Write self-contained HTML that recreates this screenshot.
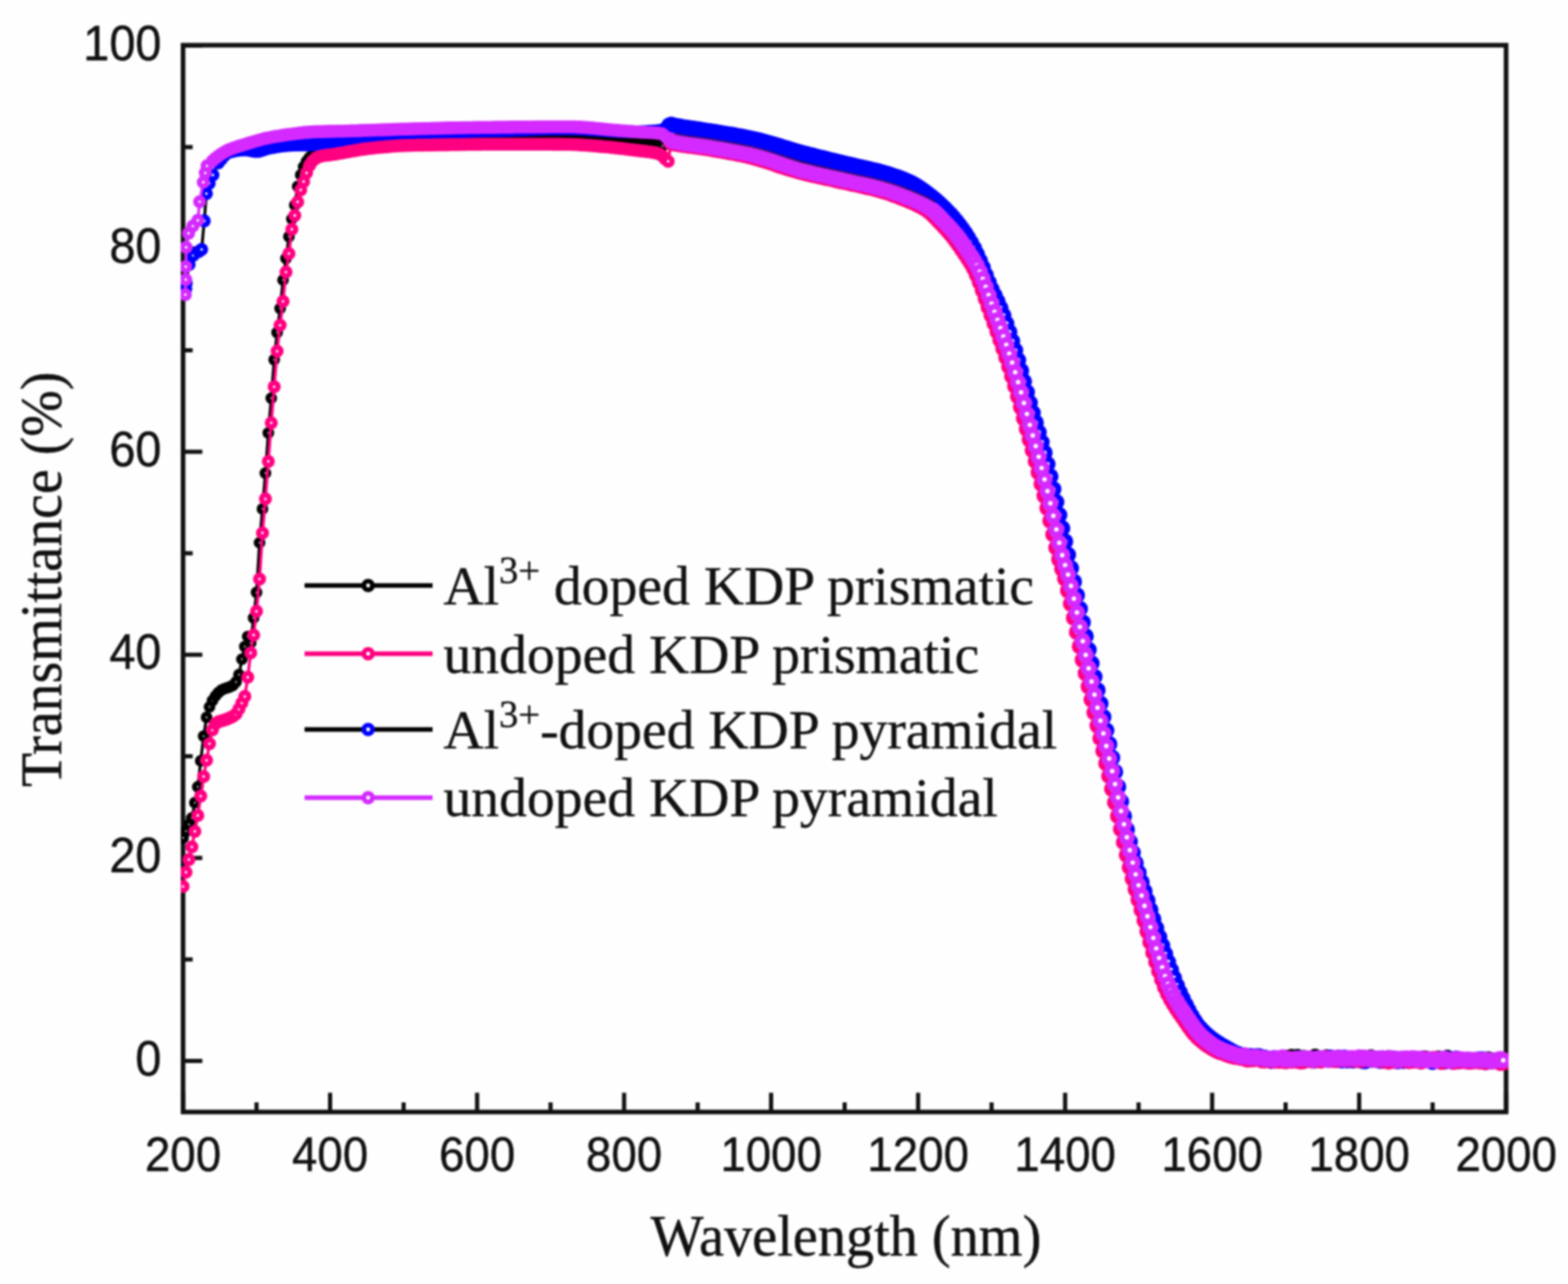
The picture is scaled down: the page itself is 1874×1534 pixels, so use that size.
<!DOCTYPE html>
<html><head><meta charset="utf-8"><title>Transmittance spectra</title>
<style>html,body{margin:0;padding:0;background:#fefefe;}svg{display:block;filter:blur(0.9px);}</style></head>
<body><svg width="1874" height="1534" viewBox="0 0 1874 1534"><rect x="218.8" y="54.0" width="1581.2" height="1274.5" fill="none" stroke="#111" stroke-width="5.5"/><path d="M218.8 1328.5v-23M306.6 1328.5v-11.5M394.5 1328.5v-23M482.4 1328.5v-11.5M570.2 1328.5v-23M658.0 1328.5v-11.5M745.9 1328.5v-23M833.8 1328.5v-11.5M921.6 1328.5v-23M1009.5 1328.5v-11.5M1097.3 1328.5v-23M1185.1 1328.5v-11.5M1273.0 1328.5v-23M1360.8 1328.5v-11.5M1448.7 1328.5v-23M1536.5 1328.5v-11.5M1624.4 1328.5v-23M1712.2 1328.5v-11.5M1800.1 1328.5v-23M218.8 1267.5h23M218.8 1146.2h11.5M218.8 1024.9h23M218.8 903.6h11.5M218.8 782.3h23M218.8 661.0h11.5M218.8 539.7h23M218.8 418.4h11.5M218.8 297.1h23M218.8 175.8h11.5M218.8 54.5h23" stroke="#111" stroke-width="5" fill="none"/><g font-family="Liberation Sans, Arial, sans-serif" font-size="56" fill="#111" stroke="#111" stroke-width="0.5"><text transform="translate(218.8 1398.5) scale(0.975 1.04)" text-anchor="middle">200</text><text transform="translate(394.5 1398.5) scale(0.975 1.04)" text-anchor="middle">400</text><text transform="translate(570.2 1398.5) scale(0.975 1.04)" text-anchor="middle">600</text><text transform="translate(745.9 1398.5) scale(0.975 1.04)" text-anchor="middle">800</text><text transform="translate(921.6 1398.5) scale(0.975 1.04)" text-anchor="middle">1000</text><text transform="translate(1097.3 1398.5) scale(0.975 1.04)" text-anchor="middle">1200</text><text transform="translate(1273.0 1398.5) scale(0.975 1.04)" text-anchor="middle">1400</text><text transform="translate(1448.7 1398.5) scale(0.975 1.04)" text-anchor="middle">1600</text><text transform="translate(1624.4 1398.5) scale(0.975 1.04)" text-anchor="middle">1800</text><text transform="translate(1800.1 1398.5) scale(0.975 1.04)" text-anchor="middle">2000</text><text transform="translate(193 1284.5) scale(1.0 1.06)" text-anchor="end">0</text><text transform="translate(193 1041.9) scale(1.0 1.06)" text-anchor="end">20</text><text transform="translate(193 799.3) scale(1.0 1.06)" text-anchor="end">40</text><text transform="translate(193 556.7) scale(1.0 1.06)" text-anchor="end">60</text><text transform="translate(193 314.1) scale(1.0 1.06)" text-anchor="end">80</text><text transform="translate(193 71.5) scale(1.0 1.06)" text-anchor="end">100</text></g><text transform="translate(1011 1500) scale(0.968 1)" text-anchor="middle" font-family="Liberation Serif, Times New Roman, serif" font-size="69.5" fill="#111" stroke="#111" stroke-width="0.5">Wavelength (nm)</text><text transform="translate(73 692.1) rotate(-90) scale(0.968 1)" text-anchor="middle" font-family="Liberation Serif, Times New Roman, serif" font-size="69" fill="#111" stroke="#111" stroke-width="0.5">Transmittance (%)</text><defs><clipPath id="pc"><rect x="216" y="40" width="1586.7" height="1291"/></clipPath></defs><g clip-path="url(#pc)"><polyline points="218.8,1001.0 222.3,993.0 225.8,984.9 229.3,977.3 232.9,959.0 236.4,940.1 239.9,909.0 243.4,879.5 246.9,857.0 250.4,844.6 253.9,837.0 257.5,831.6 261.0,827.5 264.5,824.6 268.0,822.9 271.5,821.8 275.0,820.6 278.5,818.7 282.1,814.8 285.6,806.0 289.1,787.6 292.6,772.5 296.1,760.4 299.6,767.9 303.1,738.3 306.6,707.7 310.2,648.4 313.7,608.0 317.2,565.3 320.7,517.2 324.2,475.7 327.7,429.8 331.2,397.3 334.8,368.5 338.3,334.6 341.8,308.8 345.3,282.7 348.8,261.6 352.3,245.0 355.8,222.7 359.4,209.0 362.9,199.3 366.4,192.7 369.9,188.1 373.4,184.9 376.9,182.5 380.4,180.8 384.0,179.6 387.5,178.6 391.0,177.8 394.5,177.0 398.0,176.4 401.5,175.7 405.0,175.1 408.6,174.4 412.1,173.8 415.6,173.2 419.1,172.7 422.6,172.1 426.1,171.6 429.6,171.1 433.2,170.7 436.7,170.3 440.2,169.9 443.7,169.5 447.2,169.2 450.7,168.9 454.2,168.7 457.8,168.4 461.3,168.2 464.8,168.0 468.3,167.8 471.8,167.6 475.3,167.4 478.8,167.2 482.4,167.1 485.9,166.9 489.4,166.8 492.9,166.7 496.4,166.6 499.9,166.5 503.4,166.4 506.9,166.4 510.5,166.3 514.0,166.3 517.5,166.2 521.0,166.2 524.5,166.1 528.0,166.1 531.5,166.1 535.1,166.0 538.6,166.0 542.1,166.0 545.6,165.9 549.1,165.9 552.6,165.9 556.1,165.9 559.7,165.8 563.2,165.8 566.7,165.8 570.2,165.8 573.7,165.7 577.2,165.7 580.7,165.7 584.3,165.7 587.8,165.6 591.3,165.6 594.8,165.6 598.3,165.5 601.8,165.5 605.3,165.4 608.9,165.4 612.4,165.3 615.9,165.3 619.4,165.2 622.9,165.2 626.4,165.1 629.9,165.1 633.5,165.0 637.0,164.9 640.5,164.9 644.0,164.8 647.5,164.8 651.0,164.7 654.5,164.7 658.0,164.6 661.6,164.6 665.1,164.6 668.6,164.5 672.1,164.5 675.6,164.5 679.1,164.5 682.6,164.5 686.2,164.5 689.7,164.5 693.2,164.5 696.7,164.5 700.2,164.5 703.7,164.5 707.2,164.7 710.8,164.8 714.3,165.1 717.8,165.4 721.3,165.7 724.8,166.1 728.3,166.5 731.8,167.0 735.4,167.4 738.9,167.9 742.4,168.3 745.9,168.8 749.4,169.3 752.9,169.7 756.4,170.1 760.0,170.5 763.5,170.8 767.0,171.1 770.5,171.4 774.0,171.7 777.5,172.1 781.0,172.4 784.6,172.9 788.1,173.5 791.6,174.6 795.1,158.1 798.6,157.4 802.1,158.3 805.6,159.3 809.2,160.1 812.7,160.8 816.2,161.4 819.7,161.9 823.2,162.5 826.7,163.0 830.2,163.4 833.8,163.9 837.3,164.3 840.8,164.8 844.3,165.3 847.8,165.9 851.3,166.5 854.8,167.1 858.3,167.7 861.9,168.3 865.4,168.9 868.9,169.5 872.4,170.1 875.9,170.7 879.4,171.3 882.9,172.0 886.5,172.7 890.0,173.4 893.5,174.1 897.0,174.8 900.5,175.6 904.0,176.5 907.5,177.4 911.1,178.3 914.6,179.3 918.1,180.4 921.6,181.4 925.1,182.5 928.6,183.7 932.1,184.8 935.7,185.9 939.2,187.0 942.7,188.2 946.2,189.3 949.7,190.3 953.2,191.4 956.7,192.4 960.3,193.3 963.8,194.2 967.3,195.1 970.8,196.0 974.3,196.9 977.8,197.7 981.3,198.5 984.9,199.4 988.4,200.2 991.9,201.0 995.4,201.8 998.9,202.6 1002.4,203.4 1005.9,204.3 1009.5,205.1 1013.0,205.9 1016.5,206.7 1020.0,207.5 1023.5,208.3 1027.0,209.0 1030.5,209.8 1034.0,210.6 1037.6,211.4 1041.1,212.2 1044.6,213.1 1048.1,213.9 1051.6,214.9 1055.1,215.9 1058.6,216.9 1062.2,217.9 1065.7,219.0 1069.2,220.2 1072.7,221.4 1076.2,222.7 1079.7,224.0 1083.2,225.5 1086.8,227.0 1090.3,228.5 1093.8,230.3 1097.3,232.2 1100.8,234.3 1104.3,236.8 1107.8,239.4 1111.4,242.1 1114.9,245.1 1118.4,248.4 1121.9,252.1 1125.4,255.9 1128.9,259.8 1132.4,263.8 1136.0,268.0 1139.5,272.4 1143.0,277.0 1146.5,281.8 1150.0,287.0 1153.5,292.5 1157.0,298.1 1160.6,303.9 1164.1,309.7 1167.6,316.2 1171.1,323.8 1174.6,332.7 1178.1,342.4 1181.6,352.5 1185.1,362.6 1188.7,372.5 1192.2,382.1 1195.7,391.9 1199.2,401.9 1202.7,412.0 1206.2,422.5 1209.7,433.3 1213.3,444.7 1216.8,456.5 1220.3,468.7 1223.8,481.4 1227.3,494.6 1230.8,507.6 1234.3,520.2 1237.9,532.9 1241.4,545.8 1244.9,559.1 1248.4,572.8 1251.9,586.8 1255.4,601.2 1258.9,616.3 1262.5,632.4 1266.0,648.5 1269.5,663.2 1273.0,675.3 1276.5,686.5 1280.0,700.0 1283.5,715.3 1287.1,731.8 1290.6,748.9 1294.1,766.0 1297.6,782.5 1301.1,798.4 1304.6,814.2 1308.1,829.9 1311.7,845.5 1315.2,861.0 1318.7,876.3 1322.2,891.3 1325.7,906.2 1329.2,921.2 1332.7,936.7 1336.3,952.7 1339.8,968.9 1343.3,984.8 1346.8,1000.3 1350.3,1015.8 1353.8,1030.6 1357.3,1044.6 1360.8,1057.6 1364.4,1070.0 1367.9,1082.2 1371.4,1094.7 1374.9,1107.6 1378.4,1120.6 1381.9,1133.1 1385.4,1144.6 1389.0,1155.7 1392.5,1166.2 1396.0,1175.7 1399.5,1183.7 1403.0,1190.5 1406.5,1196.6 1410.0,1202.2 1413.6,1207.4 1417.1,1212.6 1420.6,1217.8 1424.1,1222.9 1427.6,1227.8 1431.1,1232.3 1434.6,1236.3 1438.2,1239.6 1441.7,1242.6 1445.2,1245.3 1448.7,1247.9 1452.2,1250.1 1455.7,1252.1 1459.2,1253.8 1462.8,1255.3 1466.3,1256.6 1469.8,1257.8 1473.3,1259.0 1476.8,1260.0 1480.3,1260.9 1483.8,1262.3 1487.4,1261.7 1490.9,1261.0 1494.4,1262.1 1497.9,1261.3 1501.4,1263.7 1504.9,1266.5 1508.4,1263.1 1512.0,1263.0 1515.5,1265.4 1519.0,1265.3 1522.5,1264.9 1526.0,1262.9 1529.5,1264.7 1533.0,1266.2 1536.5,1262.1 1540.1,1263.9 1543.6,1261.0 1547.1,1262.2 1550.6,1261.1 1554.1,1264.3 1557.6,1262.2 1561.1,1265.3 1564.7,1265.0 1568.2,1264.3 1571.7,1260.7 1575.2,1263.6 1578.7,1264.6 1582.2,1264.9 1585.7,1261.6 1589.3,1263.7 1592.8,1262.6 1596.3,1263.0 1599.8,1266.7 1603.3,1262.9 1606.8,1264.5 1610.3,1266.3 1613.9,1263.4 1617.4,1264.3 1620.9,1264.7 1624.4,1264.6 1627.9,1262.1 1631.4,1264.7 1634.9,1267.2 1638.5,1261.4 1642.0,1266.3 1645.5,1264.8 1649.0,1263.4 1652.5,1268.7 1656.0,1266.3 1659.5,1262.4 1663.1,1265.0 1666.6,1266.1 1670.1,1264.6 1673.6,1266.4 1677.1,1265.0 1680.6,1266.5 1684.1,1268.1 1687.7,1264.0 1691.2,1265.8 1694.7,1264.5 1698.2,1265.7 1701.7,1263.1 1705.2,1264.4 1708.7,1265.2 1712.2,1267.4 1715.8,1268.0 1719.3,1263.1 1722.8,1264.2 1726.3,1267.1 1729.8,1261.9 1733.3,1265.0 1736.8,1265.7 1740.4,1268.5 1743.9,1267.4 1747.4,1265.4 1750.9,1265.3 1754.4,1265.6 1757.9,1269.2 1761.4,1265.3 1765.0,1265.6 1768.5,1266.9 1772.0,1266.0 1775.5,1265.9 1779.0,1264.1 1782.5,1266.3 1786.0,1265.5 1789.6,1268.8 1793.1,1267.8 1796.6,1266.4 1800.1,1267.8" fill="none" stroke="#000000" stroke-width="3.5" stroke-linejoin="round"/><g fill="#fff" stroke="#000000"><circle cx="218.8" cy="1001.0" r="4.0" stroke-width="6.0"/><circle cx="222.3" cy="993.0" r="4.0" stroke-width="6.0"/><circle cx="225.8" cy="984.9" r="4.0" stroke-width="6.0"/><circle cx="229.3" cy="977.3" r="4.0" stroke-width="6.0"/><circle cx="232.9" cy="959.0" r="4.0" stroke-width="6.0"/><circle cx="236.4" cy="940.1" r="4.0" stroke-width="6.0"/><circle cx="239.9" cy="909.0" r="4.0" stroke-width="6.0"/><circle cx="243.4" cy="879.5" r="4.0" stroke-width="6.0"/><circle cx="246.9" cy="857.0" r="4.0" stroke-width="6.0"/><circle cx="250.4" cy="844.6" r="4.0" stroke-width="6.0"/><circle cx="253.9" cy="837.0" r="4.0" stroke-width="6.0"/><circle cx="257.5" cy="831.6" r="4.0" stroke-width="6.0"/><circle cx="261.0" cy="827.5" r="4.0" stroke-width="6.0"/><circle cx="264.5" cy="824.6" r="4.0" stroke-width="6.0"/><circle cx="268.0" cy="822.9" r="4.0" stroke-width="6.0"/><circle cx="271.5" cy="821.8" r="4.0" stroke-width="6.0"/><circle cx="275.0" cy="820.6" r="4.0" stroke-width="6.0"/><circle cx="278.5" cy="818.7" r="4.0" stroke-width="6.0"/><circle cx="282.1" cy="814.8" r="4.0" stroke-width="6.0"/><circle cx="285.6" cy="806.0" r="4.0" stroke-width="6.0"/><circle cx="289.1" cy="787.6" r="4.0" stroke-width="6.0"/><circle cx="292.6" cy="772.5" r="4.0" stroke-width="6.0"/><circle cx="296.1" cy="760.4" r="4.0" stroke-width="6.0"/><circle cx="299.6" cy="767.9" r="4.0" stroke-width="6.0"/><circle cx="303.1" cy="738.3" r="4.0" stroke-width="6.0"/><circle cx="306.6" cy="707.7" r="4.0" stroke-width="6.0"/><circle cx="310.2" cy="648.4" r="4.0" stroke-width="6.0"/><circle cx="313.7" cy="608.0" r="4.0" stroke-width="6.0"/><circle cx="317.2" cy="565.3" r="4.0" stroke-width="6.0"/><circle cx="320.7" cy="517.2" r="4.0" stroke-width="6.0"/><circle cx="324.2" cy="475.7" r="4.0" stroke-width="6.0"/><circle cx="327.7" cy="429.8" r="4.0" stroke-width="6.0"/><circle cx="331.2" cy="397.3" r="4.0" stroke-width="6.0"/><circle cx="334.8" cy="368.5" r="4.0" stroke-width="6.0"/><circle cx="338.3" cy="334.6" r="4.0" stroke-width="6.0"/><circle cx="341.8" cy="308.8" r="4.0" stroke-width="6.0"/><circle cx="345.3" cy="282.7" r="4.0" stroke-width="6.0"/><circle cx="348.8" cy="261.6" r="4.0" stroke-width="6.0"/><circle cx="352.3" cy="245.0" r="4.0" stroke-width="6.0"/><circle cx="355.8" cy="222.7" r="4.0" stroke-width="6.0"/><circle cx="359.4" cy="209.0" r="4.0" stroke-width="6.0"/><circle cx="362.9" cy="199.3" r="4.0" stroke-width="6.0"/><circle cx="366.4" cy="192.7" r="4.0" stroke-width="6.0"/><circle cx="369.9" cy="188.1" r="4.0" stroke-width="6.0"/><circle cx="373.4" cy="184.9" r="4.0" stroke-width="6.0"/><circle cx="376.9" cy="182.5" r="4.0" stroke-width="6.0"/><circle cx="380.4" cy="180.8" r="4.0" stroke-width="6.0"/><circle cx="384.0" cy="179.6" r="4.0" stroke-width="6.0"/><circle cx="387.5" cy="178.6" r="4.0" stroke-width="6.0"/><circle cx="391.0" cy="177.8" r="4.0" stroke-width="6.0"/><circle cx="394.5" cy="177.0" r="4.0" stroke-width="6.0"/><circle cx="398.0" cy="176.4" r="4.0" stroke-width="6.0"/><circle cx="401.5" cy="175.7" r="4.0" stroke-width="6.0"/><circle cx="405.0" cy="175.1" r="4.0" stroke-width="6.0"/><circle cx="408.6" cy="174.4" r="4.0" stroke-width="6.0"/><circle cx="412.1" cy="173.8" r="4.0" stroke-width="6.0"/><circle cx="415.6" cy="173.2" r="4.0" stroke-width="6.0"/><circle cx="419.1" cy="172.7" r="4.0" stroke-width="6.0"/><circle cx="422.6" cy="172.1" r="4.0" stroke-width="6.0"/><circle cx="426.1" cy="171.6" r="4.0" stroke-width="6.0"/><circle cx="429.6" cy="171.1" r="4.0" stroke-width="6.0"/><circle cx="433.2" cy="170.7" r="4.0" stroke-width="6.0"/><circle cx="436.7" cy="170.3" r="4.0" stroke-width="6.0"/><circle cx="440.2" cy="169.9" r="4.0" stroke-width="6.0"/><circle cx="443.7" cy="169.5" r="4.0" stroke-width="6.0"/><circle cx="447.2" cy="169.2" r="4.0" stroke-width="6.0"/><circle cx="450.7" cy="168.9" r="4.0" stroke-width="6.0"/><circle cx="454.2" cy="168.7" r="4.0" stroke-width="6.0"/><circle cx="457.8" cy="168.4" r="4.0" stroke-width="6.0"/><circle cx="461.3" cy="168.2" r="4.0" stroke-width="6.0"/><circle cx="464.8" cy="168.0" r="4.0" stroke-width="6.0"/><circle cx="468.3" cy="167.8" r="4.0" stroke-width="6.0"/><circle cx="471.8" cy="167.6" r="4.0" stroke-width="6.0"/><circle cx="475.3" cy="167.4" r="4.0" stroke-width="6.0"/><circle cx="478.8" cy="167.2" r="4.0" stroke-width="6.0"/><circle cx="482.4" cy="167.1" r="4.0" stroke-width="6.0"/><circle cx="485.9" cy="166.9" r="4.0" stroke-width="6.0"/><circle cx="489.4" cy="166.8" r="4.0" stroke-width="6.0"/><circle cx="492.9" cy="166.7" r="4.0" stroke-width="6.0"/><circle cx="496.4" cy="166.6" r="4.0" stroke-width="6.0"/><circle cx="499.9" cy="166.5" r="4.0" stroke-width="6.0"/><circle cx="503.4" cy="166.4" r="4.0" stroke-width="6.0"/><circle cx="506.9" cy="166.4" r="4.0" stroke-width="6.0"/><circle cx="510.5" cy="166.3" r="4.0" stroke-width="6.0"/><circle cx="514.0" cy="166.3" r="4.0" stroke-width="6.0"/><circle cx="517.5" cy="166.2" r="4.0" stroke-width="6.0"/><circle cx="521.0" cy="166.2" r="4.0" stroke-width="6.0"/><circle cx="524.5" cy="166.1" r="4.0" stroke-width="6.0"/><circle cx="528.0" cy="166.1" r="4.0" stroke-width="6.0"/><circle cx="531.5" cy="166.1" r="4.0" stroke-width="6.0"/><circle cx="535.1" cy="166.0" r="4.0" stroke-width="6.0"/><circle cx="538.6" cy="166.0" r="4.0" stroke-width="6.0"/><circle cx="542.1" cy="166.0" r="4.0" stroke-width="6.0"/><circle cx="545.6" cy="165.9" r="4.0" stroke-width="6.0"/><circle cx="549.1" cy="165.9" r="4.0" stroke-width="6.0"/><circle cx="552.6" cy="165.9" r="4.0" stroke-width="6.0"/><circle cx="556.1" cy="165.9" r="4.0" stroke-width="6.0"/><circle cx="559.7" cy="165.8" r="4.0" stroke-width="6.0"/><circle cx="563.2" cy="165.8" r="4.0" stroke-width="6.0"/><circle cx="566.7" cy="165.8" r="4.0" stroke-width="6.0"/><circle cx="570.2" cy="165.8" r="4.0" stroke-width="6.0"/><circle cx="573.7" cy="165.7" r="4.0" stroke-width="6.0"/><circle cx="577.2" cy="165.7" r="4.0" stroke-width="6.0"/><circle cx="580.7" cy="165.7" r="4.0" stroke-width="6.0"/><circle cx="584.3" cy="165.7" r="4.0" stroke-width="6.0"/><circle cx="587.8" cy="165.6" r="4.0" stroke-width="6.0"/><circle cx="591.3" cy="165.6" r="4.0" stroke-width="6.0"/><circle cx="594.8" cy="165.6" r="4.0" stroke-width="6.0"/><circle cx="598.3" cy="165.5" r="4.0" stroke-width="6.0"/><circle cx="601.8" cy="165.5" r="4.0" stroke-width="6.0"/><circle cx="605.3" cy="165.4" r="4.0" stroke-width="6.0"/><circle cx="608.9" cy="165.4" r="4.0" stroke-width="6.0"/><circle cx="612.4" cy="165.3" r="4.0" stroke-width="6.0"/><circle cx="615.9" cy="165.3" r="4.0" stroke-width="6.0"/><circle cx="619.4" cy="165.2" r="4.0" stroke-width="6.0"/><circle cx="622.9" cy="165.2" r="4.0" stroke-width="6.0"/><circle cx="626.4" cy="165.1" r="4.0" stroke-width="6.0"/><circle cx="629.9" cy="165.1" r="4.0" stroke-width="6.0"/><circle cx="633.5" cy="165.0" r="4.0" stroke-width="6.0"/><circle cx="637.0" cy="164.9" r="4.0" stroke-width="6.0"/><circle cx="640.5" cy="164.9" r="4.0" stroke-width="6.0"/><circle cx="644.0" cy="164.8" r="4.0" stroke-width="6.0"/><circle cx="647.5" cy="164.8" r="4.0" stroke-width="6.0"/><circle cx="651.0" cy="164.7" r="4.0" stroke-width="6.0"/><circle cx="654.5" cy="164.7" r="4.0" stroke-width="6.0"/><circle cx="658.0" cy="164.6" r="4.0" stroke-width="6.0"/><circle cx="661.6" cy="164.6" r="4.0" stroke-width="6.0"/><circle cx="665.1" cy="164.6" r="4.0" stroke-width="6.0"/><circle cx="668.6" cy="164.5" r="4.0" stroke-width="6.0"/><circle cx="672.1" cy="164.5" r="4.0" stroke-width="6.0"/><circle cx="675.6" cy="164.5" r="4.0" stroke-width="6.0"/><circle cx="679.1" cy="164.5" r="4.0" stroke-width="6.0"/><circle cx="682.6" cy="164.5" r="4.0" stroke-width="6.0"/><circle cx="686.2" cy="164.5" r="4.0" stroke-width="6.0"/><circle cx="689.7" cy="164.5" r="4.0" stroke-width="6.0"/><circle cx="693.2" cy="164.5" r="4.0" stroke-width="6.0"/><circle cx="696.7" cy="164.5" r="4.0" stroke-width="6.0"/><circle cx="700.2" cy="164.5" r="4.0" stroke-width="6.0"/><circle cx="703.7" cy="164.5" r="4.0" stroke-width="6.0"/><circle cx="707.2" cy="164.7" r="4.0" stroke-width="6.0"/><circle cx="710.8" cy="164.8" r="4.0" stroke-width="6.0"/><circle cx="714.3" cy="165.1" r="4.0" stroke-width="6.0"/><circle cx="717.8" cy="165.4" r="4.0" stroke-width="6.0"/><circle cx="721.3" cy="165.7" r="4.0" stroke-width="6.0"/><circle cx="724.8" cy="166.1" r="4.0" stroke-width="6.0"/><circle cx="728.3" cy="166.5" r="4.0" stroke-width="6.0"/><circle cx="731.8" cy="167.0" r="4.0" stroke-width="6.0"/><circle cx="735.4" cy="167.4" r="4.0" stroke-width="6.0"/><circle cx="738.9" cy="167.9" r="4.0" stroke-width="6.0"/><circle cx="742.4" cy="168.3" r="4.0" stroke-width="6.0"/><circle cx="745.9" cy="168.8" r="4.0" stroke-width="6.0"/><circle cx="749.4" cy="169.3" r="4.0" stroke-width="6.0"/><circle cx="752.9" cy="169.7" r="4.0" stroke-width="6.0"/><circle cx="756.4" cy="170.1" r="4.0" stroke-width="6.0"/><circle cx="760.0" cy="170.5" r="4.0" stroke-width="6.0"/><circle cx="763.5" cy="170.8" r="4.0" stroke-width="6.0"/><circle cx="767.0" cy="171.1" r="4.0" stroke-width="6.0"/><circle cx="770.5" cy="171.4" r="4.0" stroke-width="6.0"/><circle cx="774.0" cy="171.7" r="4.0" stroke-width="6.0"/><circle cx="777.5" cy="172.1" r="4.0" stroke-width="6.0"/><circle cx="781.0" cy="172.4" r="4.0" stroke-width="6.0"/><circle cx="784.6" cy="172.9" r="4.0" stroke-width="6.0"/><circle cx="788.1" cy="173.5" r="4.0" stroke-width="6.0"/><circle cx="791.6" cy="174.6" r="4.0" stroke-width="6.0"/><circle cx="795.1" cy="158.1" r="4.0" stroke-width="6.0"/><circle cx="798.6" cy="157.4" r="4.0" stroke-width="6.0"/><circle cx="802.1" cy="158.3" r="5.0" stroke-width="6.0"/><circle cx="805.6" cy="159.3" r="5.0" stroke-width="6.0"/><circle cx="809.2" cy="160.1" r="5.0" stroke-width="6.0"/><circle cx="812.7" cy="160.8" r="5.0" stroke-width="6.0"/><circle cx="816.2" cy="161.4" r="5.0" stroke-width="6.0"/><circle cx="819.7" cy="161.9" r="5.0" stroke-width="6.0"/><circle cx="823.2" cy="162.5" r="5.0" stroke-width="6.0"/><circle cx="826.7" cy="163.0" r="5.0" stroke-width="6.0"/><circle cx="830.2" cy="163.4" r="5.0" stroke-width="6.0"/><circle cx="833.8" cy="163.9" r="5.0" stroke-width="6.0"/><circle cx="837.3" cy="164.3" r="5.0" stroke-width="6.0"/><circle cx="840.8" cy="164.8" r="5.0" stroke-width="6.0"/><circle cx="844.3" cy="165.3" r="5.0" stroke-width="6.0"/><circle cx="847.8" cy="165.9" r="5.0" stroke-width="6.0"/><circle cx="851.3" cy="166.5" r="5.0" stroke-width="6.0"/><circle cx="854.8" cy="167.1" r="5.0" stroke-width="6.0"/><circle cx="858.3" cy="167.7" r="5.0" stroke-width="6.0"/><circle cx="861.9" cy="168.3" r="5.0" stroke-width="6.0"/><circle cx="865.4" cy="168.9" r="5.0" stroke-width="6.0"/><circle cx="868.9" cy="169.5" r="5.0" stroke-width="6.0"/><circle cx="872.4" cy="170.1" r="5.0" stroke-width="6.0"/><circle cx="875.9" cy="170.7" r="5.0" stroke-width="6.0"/><circle cx="879.4" cy="171.3" r="5.0" stroke-width="6.0"/><circle cx="882.9" cy="172.0" r="5.0" stroke-width="6.0"/><circle cx="886.5" cy="172.7" r="5.0" stroke-width="6.0"/><circle cx="890.0" cy="173.4" r="5.0" stroke-width="6.0"/><circle cx="893.5" cy="174.1" r="5.0" stroke-width="6.0"/><circle cx="897.0" cy="174.8" r="5.0" stroke-width="6.0"/><circle cx="900.5" cy="175.6" r="5.0" stroke-width="6.0"/><circle cx="904.0" cy="176.5" r="5.0" stroke-width="6.0"/><circle cx="907.5" cy="177.4" r="5.0" stroke-width="6.0"/><circle cx="911.1" cy="178.3" r="5.0" stroke-width="6.0"/><circle cx="914.6" cy="179.3" r="5.0" stroke-width="6.0"/><circle cx="918.1" cy="180.4" r="5.0" stroke-width="6.0"/><circle cx="921.6" cy="181.4" r="5.0" stroke-width="6.0"/><circle cx="925.1" cy="182.5" r="5.0" stroke-width="6.0"/><circle cx="928.6" cy="183.7" r="5.0" stroke-width="6.0"/><circle cx="932.1" cy="184.8" r="5.0" stroke-width="6.0"/><circle cx="935.7" cy="185.9" r="5.0" stroke-width="6.0"/><circle cx="939.2" cy="187.0" r="5.0" stroke-width="6.0"/><circle cx="942.7" cy="188.2" r="5.0" stroke-width="6.0"/><circle cx="946.2" cy="189.3" r="5.0" stroke-width="6.0"/><circle cx="949.7" cy="190.3" r="5.0" stroke-width="6.0"/><circle cx="953.2" cy="191.4" r="5.0" stroke-width="6.0"/><circle cx="956.7" cy="192.4" r="5.0" stroke-width="6.0"/><circle cx="960.3" cy="193.3" r="5.0" stroke-width="6.0"/><circle cx="963.8" cy="194.2" r="5.0" stroke-width="6.0"/><circle cx="967.3" cy="195.1" r="5.0" stroke-width="6.0"/><circle cx="970.8" cy="196.0" r="5.0" stroke-width="6.0"/><circle cx="974.3" cy="196.9" r="5.0" stroke-width="6.0"/><circle cx="977.8" cy="197.7" r="5.0" stroke-width="6.0"/><circle cx="981.3" cy="198.5" r="5.0" stroke-width="6.0"/><circle cx="984.9" cy="199.4" r="5.0" stroke-width="6.0"/><circle cx="988.4" cy="200.2" r="5.0" stroke-width="6.0"/><circle cx="991.9" cy="201.0" r="5.0" stroke-width="6.0"/><circle cx="995.4" cy="201.8" r="5.0" stroke-width="6.0"/><circle cx="998.9" cy="202.6" r="5.0" stroke-width="6.0"/><circle cx="1002.4" cy="203.4" r="5.0" stroke-width="6.0"/><circle cx="1005.9" cy="204.3" r="5.0" stroke-width="6.0"/><circle cx="1009.5" cy="205.1" r="5.0" stroke-width="6.0"/><circle cx="1013.0" cy="205.9" r="5.0" stroke-width="6.0"/><circle cx="1016.5" cy="206.7" r="5.0" stroke-width="6.0"/><circle cx="1020.0" cy="207.5" r="5.0" stroke-width="6.0"/><circle cx="1023.5" cy="208.3" r="5.0" stroke-width="6.0"/><circle cx="1027.0" cy="209.0" r="5.0" stroke-width="6.0"/><circle cx="1030.5" cy="209.8" r="5.0" stroke-width="6.0"/><circle cx="1034.0" cy="210.6" r="5.0" stroke-width="6.0"/><circle cx="1037.6" cy="211.4" r="5.0" stroke-width="6.0"/><circle cx="1041.1" cy="212.2" r="5.0" stroke-width="6.0"/><circle cx="1044.6" cy="213.1" r="5.0" stroke-width="6.0"/><circle cx="1048.1" cy="213.9" r="5.0" stroke-width="6.0"/><circle cx="1051.6" cy="214.9" r="5.0" stroke-width="6.0"/><circle cx="1055.1" cy="215.9" r="5.0" stroke-width="6.0"/><circle cx="1058.6" cy="216.9" r="5.0" stroke-width="6.0"/><circle cx="1062.2" cy="217.9" r="5.0" stroke-width="6.0"/><circle cx="1065.7" cy="219.0" r="5.0" stroke-width="6.0"/><circle cx="1069.2" cy="220.2" r="5.0" stroke-width="6.0"/><circle cx="1072.7" cy="221.4" r="5.0" stroke-width="6.0"/><circle cx="1076.2" cy="222.7" r="5.0" stroke-width="6.0"/><circle cx="1079.7" cy="224.0" r="5.0" stroke-width="6.0"/><circle cx="1083.2" cy="225.5" r="5.0" stroke-width="6.0"/><circle cx="1086.8" cy="227.0" r="5.0" stroke-width="6.0"/><circle cx="1090.3" cy="228.5" r="5.0" stroke-width="6.0"/><circle cx="1093.8" cy="230.3" r="5.0" stroke-width="6.0"/><circle cx="1097.3" cy="232.2" r="5.0" stroke-width="6.0"/><circle cx="1100.8" cy="234.3" r="5.0" stroke-width="6.0"/><circle cx="1104.3" cy="236.8" r="5.0" stroke-width="6.0"/><circle cx="1107.8" cy="239.4" r="5.0" stroke-width="6.0"/><circle cx="1111.4" cy="242.1" r="5.0" stroke-width="6.0"/><circle cx="1114.9" cy="245.1" r="5.0" stroke-width="6.0"/><circle cx="1118.4" cy="248.4" r="5.0" stroke-width="6.0"/><circle cx="1121.9" cy="252.1" r="5.0" stroke-width="6.0"/><circle cx="1125.4" cy="255.9" r="5.0" stroke-width="6.0"/><circle cx="1128.9" cy="259.8" r="5.0" stroke-width="6.0"/><circle cx="1132.4" cy="263.8" r="5.0" stroke-width="6.0"/><circle cx="1136.0" cy="268.0" r="5.0" stroke-width="6.0"/><circle cx="1139.5" cy="272.4" r="5.0" stroke-width="6.0"/><circle cx="1143.0" cy="277.0" r="5.0" stroke-width="6.0"/><circle cx="1146.5" cy="281.8" r="5.0" stroke-width="6.0"/><circle cx="1150.0" cy="287.0" r="5.0" stroke-width="6.0"/><circle cx="1153.5" cy="292.5" r="5.0" stroke-width="6.0"/><circle cx="1157.0" cy="298.1" r="5.0" stroke-width="6.0"/><circle cx="1160.6" cy="303.9" r="5.0" stroke-width="6.0"/><circle cx="1164.1" cy="309.7" r="5.0" stroke-width="6.0"/><circle cx="1167.6" cy="316.2" r="5.0" stroke-width="6.0"/><circle cx="1171.1" cy="323.8" r="5.0" stroke-width="6.0"/><circle cx="1174.6" cy="332.7" r="5.0" stroke-width="6.0"/><circle cx="1178.1" cy="342.4" r="5.0" stroke-width="6.0"/><circle cx="1181.6" cy="352.5" r="5.0" stroke-width="6.0"/><circle cx="1185.1" cy="362.6" r="5.0" stroke-width="6.0"/><circle cx="1188.7" cy="372.5" r="5.0" stroke-width="6.0"/><circle cx="1192.2" cy="382.1" r="5.0" stroke-width="6.0"/><circle cx="1195.7" cy="391.9" r="5.0" stroke-width="6.0"/><circle cx="1199.2" cy="401.9" r="5.0" stroke-width="6.0"/><circle cx="1202.7" cy="412.0" r="5.0" stroke-width="6.0"/><circle cx="1206.2" cy="422.5" r="5.0" stroke-width="6.0"/><circle cx="1209.7" cy="433.3" r="5.0" stroke-width="6.0"/><circle cx="1213.3" cy="444.7" r="5.0" stroke-width="6.0"/><circle cx="1216.8" cy="456.5" r="5.0" stroke-width="6.0"/><circle cx="1220.3" cy="468.7" r="5.0" stroke-width="6.0"/><circle cx="1223.8" cy="481.4" r="5.0" stroke-width="6.0"/><circle cx="1227.3" cy="494.6" r="5.0" stroke-width="6.0"/><circle cx="1230.8" cy="507.6" r="5.0" stroke-width="6.0"/><circle cx="1234.3" cy="520.2" r="5.0" stroke-width="6.0"/><circle cx="1237.9" cy="532.9" r="5.0" stroke-width="6.0"/><circle cx="1241.4" cy="545.8" r="5.0" stroke-width="6.0"/><circle cx="1244.9" cy="559.1" r="5.0" stroke-width="6.0"/><circle cx="1248.4" cy="572.8" r="5.0" stroke-width="6.0"/><circle cx="1251.9" cy="586.8" r="5.0" stroke-width="6.0"/><circle cx="1255.4" cy="601.2" r="5.0" stroke-width="6.0"/><circle cx="1258.9" cy="616.3" r="5.0" stroke-width="6.0"/><circle cx="1262.5" cy="632.4" r="5.0" stroke-width="6.0"/><circle cx="1266.0" cy="648.5" r="5.0" stroke-width="6.0"/><circle cx="1269.5" cy="663.2" r="5.0" stroke-width="6.0"/><circle cx="1273.0" cy="675.3" r="5.0" stroke-width="6.0"/><circle cx="1276.5" cy="686.5" r="5.0" stroke-width="6.0"/><circle cx="1280.0" cy="700.0" r="5.0" stroke-width="6.0"/><circle cx="1283.5" cy="715.3" r="5.0" stroke-width="6.0"/><circle cx="1287.1" cy="731.8" r="5.0" stroke-width="6.0"/><circle cx="1290.6" cy="748.9" r="5.0" stroke-width="6.0"/><circle cx="1294.1" cy="766.0" r="5.0" stroke-width="6.0"/><circle cx="1297.6" cy="782.5" r="5.0" stroke-width="6.0"/><circle cx="1301.1" cy="798.4" r="5.0" stroke-width="6.0"/><circle cx="1304.6" cy="814.2" r="5.0" stroke-width="6.0"/><circle cx="1308.1" cy="829.9" r="5.0" stroke-width="6.0"/><circle cx="1311.7" cy="845.5" r="5.0" stroke-width="6.0"/><circle cx="1315.2" cy="861.0" r="5.0" stroke-width="6.0"/><circle cx="1318.7" cy="876.3" r="5.0" stroke-width="6.0"/><circle cx="1322.2" cy="891.3" r="5.0" stroke-width="6.0"/><circle cx="1325.7" cy="906.2" r="5.0" stroke-width="6.0"/><circle cx="1329.2" cy="921.2" r="5.0" stroke-width="6.0"/><circle cx="1332.7" cy="936.7" r="5.0" stroke-width="6.0"/><circle cx="1336.3" cy="952.7" r="5.0" stroke-width="6.0"/><circle cx="1339.8" cy="968.9" r="5.0" stroke-width="6.0"/><circle cx="1343.3" cy="984.8" r="5.0" stroke-width="6.0"/><circle cx="1346.8" cy="1000.3" r="5.0" stroke-width="6.0"/><circle cx="1350.3" cy="1015.8" r="5.0" stroke-width="6.0"/><circle cx="1353.8" cy="1030.6" r="5.0" stroke-width="6.0"/><circle cx="1357.3" cy="1044.6" r="5.0" stroke-width="6.0"/><circle cx="1360.8" cy="1057.6" r="5.0" stroke-width="6.0"/><circle cx="1364.4" cy="1070.0" r="5.0" stroke-width="6.0"/><circle cx="1367.9" cy="1082.2" r="5.0" stroke-width="6.0"/><circle cx="1371.4" cy="1094.7" r="5.0" stroke-width="6.0"/><circle cx="1374.9" cy="1107.6" r="5.0" stroke-width="6.0"/><circle cx="1378.4" cy="1120.6" r="5.0" stroke-width="6.0"/><circle cx="1381.9" cy="1133.1" r="5.0" stroke-width="6.0"/><circle cx="1385.4" cy="1144.6" r="5.0" stroke-width="6.0"/><circle cx="1389.0" cy="1155.7" r="5.0" stroke-width="6.0"/><circle cx="1392.5" cy="1166.2" r="5.0" stroke-width="6.0"/><circle cx="1396.0" cy="1175.7" r="5.0" stroke-width="6.0"/><circle cx="1399.5" cy="1183.7" r="5.0" stroke-width="6.0"/><circle cx="1403.0" cy="1190.5" r="5.0" stroke-width="6.0"/><circle cx="1406.5" cy="1196.6" r="5.0" stroke-width="6.0"/><circle cx="1410.0" cy="1202.2" r="5.0" stroke-width="6.0"/><circle cx="1413.6" cy="1207.4" r="5.0" stroke-width="6.0"/><circle cx="1417.1" cy="1212.6" r="5.0" stroke-width="6.0"/><circle cx="1420.6" cy="1217.8" r="5.0" stroke-width="6.0"/><circle cx="1424.1" cy="1222.9" r="5.0" stroke-width="6.0"/><circle cx="1427.6" cy="1227.8" r="5.0" stroke-width="6.0"/><circle cx="1431.1" cy="1232.3" r="5.0" stroke-width="6.0"/><circle cx="1434.6" cy="1236.3" r="5.0" stroke-width="6.0"/><circle cx="1438.2" cy="1239.6" r="5.0" stroke-width="6.0"/><circle cx="1441.7" cy="1242.6" r="5.0" stroke-width="6.0"/><circle cx="1445.2" cy="1245.3" r="5.0" stroke-width="6.0"/><circle cx="1448.7" cy="1247.9" r="5.0" stroke-width="6.0"/><circle cx="1452.2" cy="1250.1" r="5.0" stroke-width="6.0"/><circle cx="1455.7" cy="1252.1" r="5.0" stroke-width="6.0"/><circle cx="1459.2" cy="1253.8" r="5.0" stroke-width="6.0"/><circle cx="1462.8" cy="1255.3" r="5.0" stroke-width="6.0"/><circle cx="1466.3" cy="1256.6" r="5.0" stroke-width="6.0"/><circle cx="1469.8" cy="1257.8" r="5.0" stroke-width="6.0"/><circle cx="1473.3" cy="1259.0" r="5.0" stroke-width="6.0"/><circle cx="1476.8" cy="1260.0" r="5.0" stroke-width="6.0"/><circle cx="1480.3" cy="1260.9" r="5.0" stroke-width="6.0"/><circle cx="1483.8" cy="1262.3" r="5.0" stroke-width="6.0"/><circle cx="1487.4" cy="1261.7" r="5.0" stroke-width="6.0"/><circle cx="1490.9" cy="1261.0" r="5.0" stroke-width="6.0"/><circle cx="1494.4" cy="1262.1" r="5.0" stroke-width="6.0"/><circle cx="1497.9" cy="1261.3" r="5.0" stroke-width="6.0"/><circle cx="1501.4" cy="1263.7" r="5.0" stroke-width="6.0"/><circle cx="1504.9" cy="1266.5" r="5.0" stroke-width="6.0"/><circle cx="1508.4" cy="1263.1" r="5.0" stroke-width="6.0"/><circle cx="1512.0" cy="1263.0" r="5.0" stroke-width="6.0"/><circle cx="1515.5" cy="1265.4" r="5.0" stroke-width="6.0"/><circle cx="1519.0" cy="1265.3" r="5.0" stroke-width="6.0"/><circle cx="1522.5" cy="1264.9" r="5.0" stroke-width="6.0"/><circle cx="1526.0" cy="1262.9" r="5.0" stroke-width="6.0"/><circle cx="1529.5" cy="1264.7" r="5.0" stroke-width="6.0"/><circle cx="1533.0" cy="1266.2" r="5.0" stroke-width="6.0"/><circle cx="1536.5" cy="1262.1" r="5.0" stroke-width="6.0"/><circle cx="1540.1" cy="1263.9" r="5.0" stroke-width="6.0"/><circle cx="1543.6" cy="1261.0" r="5.0" stroke-width="6.0"/><circle cx="1547.1" cy="1262.2" r="5.0" stroke-width="6.0"/><circle cx="1550.6" cy="1261.1" r="5.0" stroke-width="6.0"/><circle cx="1554.1" cy="1264.3" r="5.0" stroke-width="6.0"/><circle cx="1557.6" cy="1262.2" r="5.0" stroke-width="6.0"/><circle cx="1561.1" cy="1265.3" r="5.0" stroke-width="6.0"/><circle cx="1564.7" cy="1265.0" r="5.0" stroke-width="6.0"/><circle cx="1568.2" cy="1264.3" r="5.0" stroke-width="6.0"/><circle cx="1571.7" cy="1260.7" r="5.0" stroke-width="6.0"/><circle cx="1575.2" cy="1263.6" r="5.0" stroke-width="6.0"/><circle cx="1578.7" cy="1264.6" r="5.0" stroke-width="6.0"/><circle cx="1582.2" cy="1264.9" r="5.0" stroke-width="6.0"/><circle cx="1585.7" cy="1261.6" r="5.0" stroke-width="6.0"/><circle cx="1589.3" cy="1263.7" r="5.0" stroke-width="6.0"/><circle cx="1592.8" cy="1262.6" r="5.0" stroke-width="6.0"/><circle cx="1596.3" cy="1263.0" r="5.0" stroke-width="6.0"/><circle cx="1599.8" cy="1266.7" r="5.0" stroke-width="6.0"/><circle cx="1603.3" cy="1262.9" r="5.0" stroke-width="6.0"/><circle cx="1606.8" cy="1264.5" r="5.0" stroke-width="6.0"/><circle cx="1610.3" cy="1266.3" r="5.0" stroke-width="6.0"/><circle cx="1613.9" cy="1263.4" r="5.0" stroke-width="6.0"/><circle cx="1617.4" cy="1264.3" r="5.0" stroke-width="6.0"/><circle cx="1620.9" cy="1264.7" r="5.0" stroke-width="6.0"/><circle cx="1624.4" cy="1264.6" r="5.0" stroke-width="6.0"/><circle cx="1627.9" cy="1262.1" r="5.0" stroke-width="6.0"/><circle cx="1631.4" cy="1264.7" r="5.0" stroke-width="6.0"/><circle cx="1634.9" cy="1267.2" r="5.0" stroke-width="6.0"/><circle cx="1638.5" cy="1261.4" r="5.0" stroke-width="6.0"/><circle cx="1642.0" cy="1266.3" r="5.0" stroke-width="6.0"/><circle cx="1645.5" cy="1264.8" r="5.0" stroke-width="6.0"/><circle cx="1649.0" cy="1263.4" r="5.0" stroke-width="6.0"/><circle cx="1652.5" cy="1268.7" r="5.0" stroke-width="6.0"/><circle cx="1656.0" cy="1266.3" r="5.0" stroke-width="6.0"/><circle cx="1659.5" cy="1262.4" r="5.0" stroke-width="6.0"/><circle cx="1663.1" cy="1265.0" r="5.0" stroke-width="6.0"/><circle cx="1666.6" cy="1266.1" r="5.0" stroke-width="6.0"/><circle cx="1670.1" cy="1264.6" r="5.0" stroke-width="6.0"/><circle cx="1673.6" cy="1266.4" r="5.0" stroke-width="6.0"/><circle cx="1677.1" cy="1265.0" r="5.0" stroke-width="6.0"/><circle cx="1680.6" cy="1266.5" r="5.0" stroke-width="6.0"/><circle cx="1684.1" cy="1268.1" r="5.0" stroke-width="6.0"/><circle cx="1687.7" cy="1264.0" r="5.0" stroke-width="6.0"/><circle cx="1691.2" cy="1265.8" r="5.0" stroke-width="6.0"/><circle cx="1694.7" cy="1264.5" r="5.0" stroke-width="6.0"/><circle cx="1698.2" cy="1265.7" r="5.0" stroke-width="6.0"/><circle cx="1701.7" cy="1263.1" r="5.0" stroke-width="6.0"/><circle cx="1705.2" cy="1264.4" r="5.0" stroke-width="6.0"/><circle cx="1708.7" cy="1265.2" r="5.0" stroke-width="6.0"/><circle cx="1712.2" cy="1267.4" r="5.0" stroke-width="6.0"/><circle cx="1715.8" cy="1268.0" r="5.0" stroke-width="6.0"/><circle cx="1719.3" cy="1263.1" r="5.0" stroke-width="6.0"/><circle cx="1722.8" cy="1264.2" r="5.0" stroke-width="6.0"/><circle cx="1726.3" cy="1267.1" r="5.0" stroke-width="6.0"/><circle cx="1729.8" cy="1261.9" r="5.0" stroke-width="6.0"/><circle cx="1733.3" cy="1265.0" r="5.0" stroke-width="6.0"/><circle cx="1736.8" cy="1265.7" r="5.0" stroke-width="6.0"/><circle cx="1740.4" cy="1268.5" r="5.0" stroke-width="6.0"/><circle cx="1743.9" cy="1267.4" r="5.0" stroke-width="6.0"/><circle cx="1747.4" cy="1265.4" r="5.0" stroke-width="6.0"/><circle cx="1750.9" cy="1265.3" r="5.0" stroke-width="6.0"/><circle cx="1754.4" cy="1265.6" r="5.0" stroke-width="6.0"/><circle cx="1757.9" cy="1269.2" r="5.0" stroke-width="6.0"/><circle cx="1761.4" cy="1265.3" r="5.0" stroke-width="6.0"/><circle cx="1765.0" cy="1265.6" r="5.0" stroke-width="6.0"/><circle cx="1768.5" cy="1266.9" r="5.0" stroke-width="6.0"/><circle cx="1772.0" cy="1266.0" r="5.0" stroke-width="6.0"/><circle cx="1775.5" cy="1265.9" r="5.0" stroke-width="6.0"/><circle cx="1779.0" cy="1264.1" r="5.0" stroke-width="6.0"/><circle cx="1782.5" cy="1266.3" r="5.0" stroke-width="6.0"/><circle cx="1786.0" cy="1265.5" r="5.0" stroke-width="6.0"/><circle cx="1789.6" cy="1268.8" r="5.0" stroke-width="6.0"/><circle cx="1793.1" cy="1267.8" r="5.0" stroke-width="6.0"/><circle cx="1796.6" cy="1266.4" r="5.0" stroke-width="6.0"/><circle cx="1800.1" cy="1267.8" r="5.0" stroke-width="6.0"/></g><polyline points="222.0,345.0 222.5,338.5 226.0,316.0 231.0,305.0 237.5,300.5 241.0,298.0 244.1,263.9 246.7,231.3 250.0,219.0 254.5,209.1 261.0,194.6 264.5,190.2 268.0,186.1 271.5,182.9 275.0,181.5 278.5,180.7 282.1,180.0 285.6,179.4 289.1,179.1 292.6,179.0 296.1,179.3 299.6,180.0 303.1,180.6 306.6,181.0 310.2,180.6 313.7,179.5 317.2,178.2 320.7,177.2 324.2,176.5 327.7,175.9 331.2,175.3 334.8,174.8 338.3,174.3 341.8,173.9 345.3,173.6 348.8,173.4 352.3,173.3 355.8,173.2 359.4,173.1 362.9,173.1 366.4,173.1 369.9,173.0 373.4,172.9 376.9,172.7 380.4,172.5 384.0,172.3 387.5,172.1 391.0,171.8 394.5,171.5 398.0,171.3 401.5,171.0 405.0,170.7 408.6,170.4 412.1,170.2 415.6,170.0 419.1,169.8 422.6,169.6 426.1,169.4 429.6,169.2 433.2,169.0 436.7,168.8 440.2,168.6 443.7,168.4 447.2,168.2 450.7,167.9 454.2,167.7 457.8,167.4 461.3,167.0 464.8,166.7 468.3,166.3 471.8,165.9 475.3,165.5 478.8,165.1 482.4,164.7 485.9,164.3 489.4,163.9 492.9,163.4 496.4,162.9 499.9,162.4 503.4,162.0 506.9,161.5 510.5,161.0 514.0,160.6 517.5,160.2 521.0,159.9 524.5,159.6 528.0,159.3 531.5,158.9 535.1,158.6 538.6,158.3 542.1,158.1 545.6,157.8 549.1,157.6 552.6,157.3 556.1,157.2 559.7,157.0 563.2,156.9 566.7,156.8 570.2,156.7 573.7,156.6 577.2,156.5 580.7,156.4 584.3,156.3 587.8,156.3 591.3,156.2 594.8,156.1 598.3,156.0 601.8,156.0 605.3,155.9 608.9,155.8 612.4,155.7 615.9,155.5 619.4,155.4 622.9,155.3 626.4,155.2 629.9,155.1 633.5,155.0 637.0,154.8 640.5,154.7 644.0,154.6 647.5,154.5 651.0,154.4 654.5,154.3 658.0,154.3 661.6,154.2 665.1,154.1 668.6,154.1 672.1,154.0 675.6,154.0 679.1,154.0 682.6,154.0 686.2,154.1 689.7,154.2 693.2,154.3 696.7,154.5 700.2,154.6 703.7,154.9 707.2,155.1 710.8,155.3 714.3,155.6 717.8,155.8 721.3,156.0 724.8,156.3 728.3,156.5 731.8,156.7 735.4,156.8 738.9,157.0 742.4,157.1 745.9,157.2 749.4,157.3 752.9,157.4 756.4,157.5 760.0,157.5 763.5,157.5 767.0,157.4 770.5,157.2 774.0,157.0 777.5,156.9 781.0,156.6 784.6,156.3 788.1,156.0 791.6,155.5 795.1,153.0 798.6,148.5 802.1,149.0 805.6,149.9 809.2,150.6 812.7,151.3 816.2,151.9 819.7,152.5 823.2,153.0 826.7,153.5 830.2,154.0 833.8,154.5 837.3,155.0 840.8,155.6 844.3,156.1 847.8,156.6 851.3,157.2 854.8,157.8 858.3,158.4 861.9,159.0 865.4,159.6 868.9,160.1 872.4,160.7 875.9,161.3 879.4,162.0 882.9,162.6 886.5,163.3 890.0,163.9 893.5,164.6 897.0,165.4 900.5,166.1 904.0,166.9 907.5,167.8 911.1,168.7 914.6,169.6 918.1,170.6 921.6,171.6 925.1,172.7 928.6,173.7 932.1,174.8 935.7,175.9 939.2,177.0 942.7,178.0 946.2,179.1 949.7,180.1 953.2,181.1 956.7,182.1 960.3,183.1 963.8,184.0 967.3,184.9 970.8,185.8 974.3,186.7 977.8,187.6 981.3,188.5 984.9,189.3 988.4,190.2 991.9,191.1 995.4,191.9 998.9,192.8 1002.4,193.6 1005.9,194.5 1009.5,195.4 1013.0,196.2 1016.5,197.0 1020.0,197.8 1023.5,198.6 1027.0,199.4 1030.5,200.1 1034.0,200.9 1037.6,201.7 1041.1,202.6 1044.6,203.4 1048.1,204.3 1051.6,205.3 1055.1,206.2 1058.6,207.3 1062.2,208.3 1065.7,209.4 1069.2,210.6 1072.7,211.8 1076.2,213.0 1079.7,214.4 1083.2,215.9 1086.8,217.4 1090.3,219.1 1093.8,221.1 1097.3,223.3 1100.8,225.7 1104.3,228.2 1107.8,230.8 1111.4,233.5 1114.9,236.3 1118.4,239.2 1121.9,242.3 1125.4,245.5 1128.9,248.9 1132.4,252.5 1136.0,256.2 1139.5,260.2 1143.0,264.4 1146.5,268.9 1150.0,273.6 1153.5,278.6 1157.0,284.1 1160.6,290.0 1164.1,296.6 1167.6,303.9 1171.1,311.7 1174.6,319.7 1178.1,328.5 1181.6,337.4 1185.1,345.6 1188.7,352.9 1192.2,360.1 1195.7,368.0 1199.2,376.9 1202.7,386.5 1206.2,396.7 1209.7,407.5 1213.3,418.6 1216.8,430.3 1220.3,442.9 1223.8,455.8 1227.3,468.7 1230.8,481.3 1234.3,493.3 1237.9,504.9 1241.4,516.5 1244.9,528.3 1248.4,540.9 1251.9,554.5 1255.4,569.2 1258.9,584.4 1262.5,599.8 1266.0,615.3 1269.5,631.0 1273.0,646.9 1276.5,662.8 1280.0,678.8 1283.5,694.9 1287.1,711.1 1290.6,727.4 1294.1,743.7 1297.6,760.0 1301.1,776.3 1304.6,792.5 1308.1,808.6 1311.7,824.7 1315.2,840.7 1318.7,856.7 1322.2,872.7 1325.7,888.9 1329.2,905.3 1332.7,922.2 1336.3,939.9 1339.8,957.7 1343.3,975.1 1346.8,991.2 1350.3,1005.5 1353.8,1018.7 1357.3,1031.0 1360.8,1042.7 1364.4,1053.9 1367.9,1064.9 1371.4,1075.9 1374.9,1087.0 1378.4,1098.0 1381.9,1108.8 1385.4,1119.4 1389.0,1129.7 1392.5,1139.6 1396.0,1149.3 1399.5,1158.9 1403.0,1168.3 1406.5,1177.3 1410.0,1185.6 1413.6,1193.1 1417.1,1200.3 1420.6,1207.1 1424.1,1213.6 1427.6,1219.4 1431.1,1224.5 1434.6,1228.7 1438.2,1232.3 1441.7,1235.6 1445.2,1238.6 1448.7,1241.4 1452.2,1243.9 1455.7,1246.2 1459.2,1248.4 1462.8,1250.4 1466.3,1252.4 1469.8,1254.4 1473.3,1256.4 1476.8,1258.2 1480.3,1259.4 1483.8,1262.4 1487.4,1262.2 1490.9,1263.6 1494.4,1261.8 1497.9,1264.1 1501.4,1262.0 1504.9,1261.9 1508.4,1264.2 1512.0,1263.7 1515.5,1265.2 1519.0,1267.5 1522.5,1264.3 1526.0,1264.6 1529.5,1265.7 1533.0,1266.1 1536.5,1265.3 1540.1,1265.3 1543.6,1266.5 1547.1,1266.3 1550.6,1264.4 1554.1,1265.6 1557.6,1265.7 1561.1,1264.5 1564.7,1266.1 1568.2,1264.7 1571.7,1266.9 1575.2,1266.0 1578.7,1265.9 1582.2,1265.1 1585.7,1265.7 1589.3,1263.4 1592.8,1264.5 1596.3,1266.3 1599.8,1263.5 1603.3,1266.9 1606.8,1263.8 1610.3,1266.8 1613.9,1264.9 1617.4,1266.9 1620.9,1266.1 1624.4,1264.1 1627.9,1267.5 1631.4,1267.7 1634.9,1266.0 1638.5,1265.7 1642.0,1265.9 1645.5,1264.9 1649.0,1267.4 1652.5,1265.5 1656.0,1266.1 1659.5,1265.2 1663.1,1265.5 1666.6,1264.7 1670.1,1267.8 1673.6,1266.1 1677.1,1267.5 1680.6,1266.4 1684.1,1265.6 1687.7,1266.0 1691.2,1265.8 1694.7,1266.5 1698.2,1266.1 1701.7,1266.2 1705.2,1264.9 1708.7,1265.6 1712.2,1268.6 1715.8,1265.8 1719.3,1265.4 1722.8,1267.1 1726.3,1268.4 1729.8,1265.0 1733.3,1266.6 1736.8,1266.1 1740.4,1264.8 1743.9,1267.8 1747.4,1266.9 1750.9,1267.1 1754.4,1266.1 1757.9,1267.6 1761.4,1266.4 1765.0,1267.0 1768.5,1265.8 1772.0,1265.7 1775.5,1268.8 1779.0,1266.7 1782.5,1267.7 1786.0,1267.3 1789.6,1266.9 1793.1,1266.8 1796.6,1268.2" fill="none" stroke="#000000" stroke-width="3.5" stroke-linejoin="round"/><g fill="#fff" stroke="#0000ff"><circle cx="222.0" cy="345.0" r="4.7" stroke-width="6.2"/><circle cx="222.5" cy="338.5" r="4.7" stroke-width="6.2"/><circle cx="226.0" cy="316.0" r="4.7" stroke-width="6.2"/><circle cx="231.0" cy="305.0" r="4.7" stroke-width="6.2"/><circle cx="237.5" cy="300.5" r="4.7" stroke-width="6.2"/><circle cx="241.0" cy="298.0" r="4.7" stroke-width="6.2"/><circle cx="244.1" cy="263.9" r="4.7" stroke-width="6.2"/><circle cx="246.7" cy="231.3" r="4.7" stroke-width="6.2"/><circle cx="250.0" cy="219.0" r="4.7" stroke-width="6.2"/><circle cx="254.5" cy="209.1" r="4.7" stroke-width="6.2"/><circle cx="261.0" cy="194.6" r="4.7" stroke-width="6.2"/><circle cx="264.5" cy="190.2" r="4.7" stroke-width="6.2"/><circle cx="268.0" cy="186.1" r="4.7" stroke-width="6.2"/><circle cx="271.5" cy="182.9" r="4.7" stroke-width="6.2"/><circle cx="275.0" cy="181.5" r="4.7" stroke-width="6.2"/><circle cx="278.5" cy="180.7" r="4.7" stroke-width="6.2"/><circle cx="282.1" cy="180.0" r="4.7" stroke-width="6.2"/><circle cx="285.6" cy="179.4" r="4.7" stroke-width="6.2"/><circle cx="289.1" cy="179.1" r="4.7" stroke-width="6.2"/><circle cx="292.6" cy="179.0" r="4.7" stroke-width="6.2"/><circle cx="296.1" cy="179.3" r="4.7" stroke-width="6.2"/><circle cx="299.6" cy="180.0" r="4.7" stroke-width="6.2"/><circle cx="303.1" cy="180.6" r="4.7" stroke-width="6.2"/><circle cx="306.6" cy="181.0" r="4.7" stroke-width="6.2"/><circle cx="310.2" cy="180.6" r="4.7" stroke-width="6.2"/><circle cx="313.7" cy="179.5" r="4.7" stroke-width="6.2"/><circle cx="317.2" cy="178.2" r="4.7" stroke-width="6.2"/><circle cx="320.7" cy="177.2" r="4.7" stroke-width="6.2"/><circle cx="324.2" cy="176.5" r="4.7" stroke-width="6.2"/><circle cx="327.7" cy="175.9" r="4.7" stroke-width="6.2"/><circle cx="331.2" cy="175.3" r="4.7" stroke-width="6.2"/><circle cx="334.8" cy="174.8" r="4.7" stroke-width="6.2"/><circle cx="338.3" cy="174.3" r="4.7" stroke-width="6.2"/><circle cx="341.8" cy="173.9" r="4.7" stroke-width="6.2"/><circle cx="345.3" cy="173.6" r="4.7" stroke-width="6.2"/><circle cx="348.8" cy="173.4" r="4.7" stroke-width="6.2"/><circle cx="352.3" cy="173.3" r="4.7" stroke-width="6.2"/><circle cx="355.8" cy="173.2" r="4.7" stroke-width="6.2"/><circle cx="359.4" cy="173.1" r="4.7" stroke-width="6.2"/><circle cx="362.9" cy="173.1" r="4.7" stroke-width="6.2"/><circle cx="366.4" cy="173.1" r="4.7" stroke-width="6.2"/><circle cx="369.9" cy="173.0" r="4.7" stroke-width="6.2"/><circle cx="373.4" cy="172.9" r="4.7" stroke-width="6.2"/><circle cx="376.9" cy="172.7" r="4.7" stroke-width="6.2"/><circle cx="380.4" cy="172.5" r="4.7" stroke-width="6.2"/><circle cx="384.0" cy="172.3" r="4.7" stroke-width="6.2"/><circle cx="387.5" cy="172.1" r="4.7" stroke-width="6.2"/><circle cx="391.0" cy="171.8" r="4.7" stroke-width="6.2"/><circle cx="394.5" cy="171.5" r="4.7" stroke-width="6.2"/><circle cx="398.0" cy="171.3" r="4.7" stroke-width="6.2"/><circle cx="401.5" cy="171.0" r="4.7" stroke-width="6.2"/><circle cx="405.0" cy="170.7" r="4.7" stroke-width="6.2"/><circle cx="408.6" cy="170.4" r="4.7" stroke-width="6.2"/><circle cx="412.1" cy="170.2" r="4.7" stroke-width="6.2"/><circle cx="415.6" cy="170.0" r="4.7" stroke-width="6.2"/><circle cx="419.1" cy="169.8" r="4.7" stroke-width="6.2"/><circle cx="422.6" cy="169.6" r="4.7" stroke-width="6.2"/><circle cx="426.1" cy="169.4" r="4.7" stroke-width="6.2"/><circle cx="429.6" cy="169.2" r="4.7" stroke-width="6.2"/><circle cx="433.2" cy="169.0" r="4.7" stroke-width="6.2"/><circle cx="436.7" cy="168.8" r="4.7" stroke-width="6.2"/><circle cx="440.2" cy="168.6" r="4.7" stroke-width="6.2"/><circle cx="443.7" cy="168.4" r="4.7" stroke-width="6.2"/><circle cx="447.2" cy="168.2" r="4.7" stroke-width="6.2"/><circle cx="450.7" cy="167.9" r="4.7" stroke-width="6.2"/><circle cx="454.2" cy="167.7" r="4.7" stroke-width="6.2"/><circle cx="457.8" cy="167.4" r="4.7" stroke-width="6.2"/><circle cx="461.3" cy="167.0" r="4.7" stroke-width="6.2"/><circle cx="464.8" cy="166.7" r="4.7" stroke-width="6.2"/><circle cx="468.3" cy="166.3" r="4.7" stroke-width="6.2"/><circle cx="471.8" cy="165.9" r="4.7" stroke-width="6.2"/><circle cx="475.3" cy="165.5" r="4.7" stroke-width="6.2"/><circle cx="478.8" cy="165.1" r="4.7" stroke-width="6.2"/><circle cx="482.4" cy="164.7" r="4.7" stroke-width="6.2"/><circle cx="485.9" cy="164.3" r="4.7" stroke-width="6.2"/><circle cx="489.4" cy="163.9" r="4.7" stroke-width="6.2"/><circle cx="492.9" cy="163.4" r="4.7" stroke-width="6.2"/><circle cx="496.4" cy="162.9" r="4.7" stroke-width="6.2"/><circle cx="499.9" cy="162.4" r="4.7" stroke-width="6.2"/><circle cx="503.4" cy="162.0" r="4.7" stroke-width="6.2"/><circle cx="506.9" cy="161.5" r="4.7" stroke-width="6.2"/><circle cx="510.5" cy="161.0" r="4.7" stroke-width="6.2"/><circle cx="514.0" cy="160.6" r="4.7" stroke-width="6.2"/><circle cx="517.5" cy="160.2" r="4.7" stroke-width="6.2"/><circle cx="521.0" cy="159.9" r="4.7" stroke-width="6.2"/><circle cx="524.5" cy="159.6" r="4.7" stroke-width="6.2"/><circle cx="528.0" cy="159.3" r="4.7" stroke-width="6.2"/><circle cx="531.5" cy="158.9" r="4.7" stroke-width="6.2"/><circle cx="535.1" cy="158.6" r="4.7" stroke-width="6.2"/><circle cx="538.6" cy="158.3" r="4.7" stroke-width="6.2"/><circle cx="542.1" cy="158.1" r="4.7" stroke-width="6.2"/><circle cx="545.6" cy="157.8" r="4.7" stroke-width="6.2"/><circle cx="549.1" cy="157.6" r="4.7" stroke-width="6.2"/><circle cx="552.6" cy="157.3" r="4.7" stroke-width="6.2"/><circle cx="556.1" cy="157.2" r="4.7" stroke-width="6.2"/><circle cx="559.7" cy="157.0" r="4.7" stroke-width="6.2"/><circle cx="563.2" cy="156.9" r="4.7" stroke-width="6.2"/><circle cx="566.7" cy="156.8" r="4.7" stroke-width="6.2"/><circle cx="570.2" cy="156.7" r="4.7" stroke-width="6.2"/><circle cx="573.7" cy="156.6" r="4.7" stroke-width="6.2"/><circle cx="577.2" cy="156.5" r="4.7" stroke-width="6.2"/><circle cx="580.7" cy="156.4" r="4.7" stroke-width="6.2"/><circle cx="584.3" cy="156.3" r="4.7" stroke-width="6.2"/><circle cx="587.8" cy="156.3" r="4.7" stroke-width="6.2"/><circle cx="591.3" cy="156.2" r="4.7" stroke-width="6.2"/><circle cx="594.8" cy="156.1" r="4.7" stroke-width="6.2"/><circle cx="598.3" cy="156.0" r="4.7" stroke-width="6.2"/><circle cx="601.8" cy="156.0" r="4.7" stroke-width="6.2"/><circle cx="605.3" cy="155.9" r="4.7" stroke-width="6.2"/><circle cx="608.9" cy="155.8" r="4.7" stroke-width="6.2"/><circle cx="612.4" cy="155.7" r="4.7" stroke-width="6.2"/><circle cx="615.9" cy="155.5" r="4.7" stroke-width="6.2"/><circle cx="619.4" cy="155.4" r="4.7" stroke-width="6.2"/><circle cx="622.9" cy="155.3" r="4.7" stroke-width="6.2"/><circle cx="626.4" cy="155.2" r="4.7" stroke-width="6.2"/><circle cx="629.9" cy="155.1" r="4.7" stroke-width="6.2"/><circle cx="633.5" cy="155.0" r="4.7" stroke-width="6.2"/><circle cx="637.0" cy="154.8" r="4.7" stroke-width="6.2"/><circle cx="640.5" cy="154.7" r="4.7" stroke-width="6.2"/><circle cx="644.0" cy="154.6" r="4.7" stroke-width="6.2"/><circle cx="647.5" cy="154.5" r="4.7" stroke-width="6.2"/><circle cx="651.0" cy="154.4" r="4.7" stroke-width="6.2"/><circle cx="654.5" cy="154.3" r="4.7" stroke-width="6.2"/><circle cx="658.0" cy="154.3" r="4.7" stroke-width="6.2"/><circle cx="661.6" cy="154.2" r="4.7" stroke-width="6.2"/><circle cx="665.1" cy="154.1" r="4.7" stroke-width="6.2"/><circle cx="668.6" cy="154.1" r="4.7" stroke-width="6.2"/><circle cx="672.1" cy="154.0" r="4.7" stroke-width="6.2"/><circle cx="675.6" cy="154.0" r="4.7" stroke-width="6.2"/><circle cx="679.1" cy="154.0" r="4.7" stroke-width="6.2"/><circle cx="682.6" cy="154.0" r="4.7" stroke-width="6.2"/><circle cx="686.2" cy="154.1" r="4.7" stroke-width="6.2"/><circle cx="689.7" cy="154.2" r="4.7" stroke-width="6.2"/><circle cx="693.2" cy="154.3" r="4.7" stroke-width="6.2"/><circle cx="696.7" cy="154.5" r="4.7" stroke-width="6.2"/><circle cx="700.2" cy="154.6" r="4.7" stroke-width="6.2"/><circle cx="703.7" cy="154.9" r="4.7" stroke-width="6.2"/><circle cx="707.2" cy="155.1" r="4.7" stroke-width="6.2"/><circle cx="710.8" cy="155.3" r="4.7" stroke-width="6.2"/><circle cx="714.3" cy="155.6" r="4.7" stroke-width="6.2"/><circle cx="717.8" cy="155.8" r="4.7" stroke-width="6.2"/><circle cx="721.3" cy="156.0" r="4.7" stroke-width="6.2"/><circle cx="724.8" cy="156.3" r="4.7" stroke-width="6.2"/><circle cx="728.3" cy="156.5" r="4.7" stroke-width="6.2"/><circle cx="731.8" cy="156.7" r="4.7" stroke-width="6.2"/><circle cx="735.4" cy="156.8" r="4.7" stroke-width="6.2"/><circle cx="738.9" cy="157.0" r="4.7" stroke-width="6.2"/><circle cx="742.4" cy="157.1" r="4.7" stroke-width="6.2"/><circle cx="745.9" cy="157.2" r="4.7" stroke-width="6.2"/><circle cx="749.4" cy="157.3" r="4.7" stroke-width="6.2"/><circle cx="752.9" cy="157.4" r="4.7" stroke-width="6.2"/><circle cx="756.4" cy="157.5" r="4.7" stroke-width="6.2"/><circle cx="760.0" cy="157.5" r="4.7" stroke-width="6.2"/><circle cx="763.5" cy="157.5" r="4.7" stroke-width="6.2"/><circle cx="767.0" cy="157.4" r="4.7" stroke-width="6.2"/><circle cx="770.5" cy="157.2" r="4.7" stroke-width="6.2"/><circle cx="774.0" cy="157.0" r="4.7" stroke-width="6.2"/><circle cx="777.5" cy="156.9" r="4.7" stroke-width="6.2"/><circle cx="781.0" cy="156.6" r="4.7" stroke-width="6.2"/><circle cx="784.6" cy="156.3" r="4.7" stroke-width="6.2"/><circle cx="788.1" cy="156.0" r="4.7" stroke-width="6.2"/><circle cx="791.6" cy="155.5" r="4.7" stroke-width="6.2"/><circle cx="795.1" cy="153.0" r="4.7" stroke-width="6.2"/><circle cx="798.6" cy="148.5" r="4.7" stroke-width="6.2"/><circle cx="802.1" cy="149.0" r="6.2" stroke-width="7.0"/><circle cx="805.6" cy="149.9" r="6.2" stroke-width="7.0"/><circle cx="809.2" cy="150.6" r="6.2" stroke-width="7.0"/><circle cx="812.7" cy="151.3" r="6.2" stroke-width="7.0"/><circle cx="816.2" cy="151.9" r="6.2" stroke-width="7.0"/><circle cx="819.7" cy="152.5" r="6.2" stroke-width="7.0"/><circle cx="823.2" cy="153.0" r="6.2" stroke-width="7.0"/><circle cx="826.7" cy="153.5" r="6.2" stroke-width="7.0"/><circle cx="830.2" cy="154.0" r="6.2" stroke-width="7.0"/><circle cx="833.8" cy="154.5" r="6.2" stroke-width="7.0"/><circle cx="837.3" cy="155.0" r="6.2" stroke-width="7.0"/><circle cx="840.8" cy="155.6" r="6.2" stroke-width="7.0"/><circle cx="844.3" cy="156.1" r="6.2" stroke-width="7.0"/><circle cx="847.8" cy="156.6" r="6.2" stroke-width="7.0"/><circle cx="851.3" cy="157.2" r="6.2" stroke-width="7.0"/><circle cx="854.8" cy="157.8" r="6.2" stroke-width="7.0"/><circle cx="858.3" cy="158.4" r="6.2" stroke-width="7.0"/><circle cx="861.9" cy="159.0" r="6.2" stroke-width="7.0"/><circle cx="865.4" cy="159.6" r="6.2" stroke-width="7.0"/><circle cx="868.9" cy="160.1" r="6.2" stroke-width="7.0"/><circle cx="872.4" cy="160.7" r="6.2" stroke-width="7.0"/><circle cx="875.9" cy="161.3" r="6.2" stroke-width="7.0"/><circle cx="879.4" cy="162.0" r="6.2" stroke-width="7.0"/><circle cx="882.9" cy="162.6" r="6.2" stroke-width="7.0"/><circle cx="886.5" cy="163.3" r="6.2" stroke-width="7.0"/><circle cx="890.0" cy="163.9" r="6.2" stroke-width="7.0"/><circle cx="893.5" cy="164.6" r="6.2" stroke-width="7.0"/><circle cx="897.0" cy="165.4" r="6.2" stroke-width="7.0"/><circle cx="900.5" cy="166.1" r="6.2" stroke-width="7.0"/><circle cx="904.0" cy="166.9" r="6.2" stroke-width="7.0"/><circle cx="907.5" cy="167.8" r="6.2" stroke-width="7.0"/><circle cx="911.1" cy="168.7" r="6.2" stroke-width="7.0"/><circle cx="914.6" cy="169.6" r="6.2" stroke-width="7.0"/><circle cx="918.1" cy="170.6" r="6.2" stroke-width="7.0"/><circle cx="921.6" cy="171.6" r="6.2" stroke-width="7.0"/><circle cx="925.1" cy="172.7" r="6.2" stroke-width="7.0"/><circle cx="928.6" cy="173.7" r="6.2" stroke-width="7.0"/><circle cx="932.1" cy="174.8" r="6.2" stroke-width="7.0"/><circle cx="935.7" cy="175.9" r="6.2" stroke-width="7.0"/><circle cx="939.2" cy="177.0" r="6.2" stroke-width="7.0"/><circle cx="942.7" cy="178.0" r="6.2" stroke-width="7.0"/><circle cx="946.2" cy="179.1" r="6.2" stroke-width="7.0"/><circle cx="949.7" cy="180.1" r="6.2" stroke-width="7.0"/><circle cx="953.2" cy="181.1" r="6.2" stroke-width="7.0"/><circle cx="956.7" cy="182.1" r="6.2" stroke-width="7.0"/><circle cx="960.3" cy="183.1" r="6.2" stroke-width="7.0"/><circle cx="963.8" cy="184.0" r="6.2" stroke-width="7.0"/><circle cx="967.3" cy="184.9" r="6.2" stroke-width="7.0"/><circle cx="970.8" cy="185.8" r="6.2" stroke-width="7.0"/><circle cx="974.3" cy="186.7" r="6.2" stroke-width="7.0"/><circle cx="977.8" cy="187.6" r="6.2" stroke-width="7.0"/><circle cx="981.3" cy="188.5" r="6.2" stroke-width="7.0"/><circle cx="984.9" cy="189.3" r="6.2" stroke-width="7.0"/><circle cx="988.4" cy="190.2" r="6.2" stroke-width="7.0"/><circle cx="991.9" cy="191.1" r="6.2" stroke-width="7.0"/><circle cx="995.4" cy="191.9" r="6.2" stroke-width="7.0"/><circle cx="998.9" cy="192.8" r="6.2" stroke-width="7.0"/><circle cx="1002.4" cy="193.6" r="6.2" stroke-width="7.0"/><circle cx="1005.9" cy="194.5" r="6.2" stroke-width="7.0"/><circle cx="1009.5" cy="195.4" r="6.2" stroke-width="7.0"/><circle cx="1013.0" cy="196.2" r="6.2" stroke-width="7.0"/><circle cx="1016.5" cy="197.0" r="6.2" stroke-width="7.0"/><circle cx="1020.0" cy="197.8" r="6.2" stroke-width="7.0"/><circle cx="1023.5" cy="198.6" r="6.2" stroke-width="7.0"/><circle cx="1027.0" cy="199.4" r="6.2" stroke-width="7.0"/><circle cx="1030.5" cy="200.1" r="6.2" stroke-width="7.0"/><circle cx="1034.0" cy="200.9" r="6.2" stroke-width="7.0"/><circle cx="1037.6" cy="201.7" r="6.2" stroke-width="7.0"/><circle cx="1041.1" cy="202.6" r="6.2" stroke-width="7.0"/><circle cx="1044.6" cy="203.4" r="6.2" stroke-width="7.0"/><circle cx="1048.1" cy="204.3" r="6.2" stroke-width="7.0"/><circle cx="1051.6" cy="205.3" r="6.2" stroke-width="7.0"/><circle cx="1055.1" cy="206.2" r="6.2" stroke-width="7.0"/><circle cx="1058.6" cy="207.3" r="6.2" stroke-width="7.0"/><circle cx="1062.2" cy="208.3" r="6.2" stroke-width="7.0"/><circle cx="1065.7" cy="209.4" r="6.2" stroke-width="7.0"/><circle cx="1069.2" cy="210.6" r="6.2" stroke-width="7.0"/><circle cx="1072.7" cy="211.8" r="6.2" stroke-width="7.0"/><circle cx="1076.2" cy="213.0" r="6.2" stroke-width="7.0"/><circle cx="1079.7" cy="214.4" r="6.2" stroke-width="7.0"/><circle cx="1083.2" cy="215.9" r="6.2" stroke-width="7.0"/><circle cx="1086.8" cy="217.4" r="6.2" stroke-width="7.0"/><circle cx="1090.3" cy="219.1" r="6.2" stroke-width="7.0"/><circle cx="1093.8" cy="221.1" r="6.2" stroke-width="7.0"/><circle cx="1097.3" cy="223.3" r="6.2" stroke-width="7.0"/><circle cx="1100.8" cy="225.7" r="6.2" stroke-width="7.0"/><circle cx="1104.3" cy="228.2" r="6.2" stroke-width="7.0"/><circle cx="1107.8" cy="230.8" r="6.2" stroke-width="7.0"/><circle cx="1111.4" cy="233.5" r="6.2" stroke-width="7.0"/><circle cx="1114.9" cy="236.3" r="6.2" stroke-width="7.0"/><circle cx="1118.4" cy="239.2" r="6.2" stroke-width="7.0"/><circle cx="1121.9" cy="242.3" r="6.2" stroke-width="7.0"/><circle cx="1125.4" cy="245.5" r="6.2" stroke-width="7.0"/><circle cx="1128.9" cy="248.9" r="6.2" stroke-width="7.0"/><circle cx="1132.4" cy="252.5" r="6.2" stroke-width="7.0"/><circle cx="1136.0" cy="256.2" r="6.2" stroke-width="7.0"/><circle cx="1139.5" cy="260.2" r="6.2" stroke-width="7.0"/><circle cx="1143.0" cy="264.4" r="6.2" stroke-width="7.0"/><circle cx="1146.5" cy="268.9" r="6.2" stroke-width="7.0"/><circle cx="1150.0" cy="273.6" r="6.2" stroke-width="7.0"/><circle cx="1153.5" cy="278.6" r="6.2" stroke-width="7.0"/><circle cx="1157.0" cy="284.1" r="6.2" stroke-width="7.0"/><circle cx="1160.6" cy="290.0" r="6.2" stroke-width="7.0"/><circle cx="1164.1" cy="296.6" r="6.2" stroke-width="7.0"/><circle cx="1167.6" cy="303.9" r="6.2" stroke-width="7.0"/><circle cx="1171.1" cy="311.7" r="6.2" stroke-width="7.0"/><circle cx="1174.6" cy="319.7" r="6.2" stroke-width="7.0"/><circle cx="1178.1" cy="328.5" r="6.2" stroke-width="7.0"/><circle cx="1181.6" cy="337.4" r="6.2" stroke-width="7.0"/><circle cx="1185.1" cy="345.6" r="6.2" stroke-width="7.0"/><circle cx="1188.7" cy="352.9" r="6.2" stroke-width="7.0"/><circle cx="1192.2" cy="360.1" r="6.2" stroke-width="7.0"/><circle cx="1195.7" cy="368.0" r="6.2" stroke-width="7.0"/><circle cx="1199.2" cy="376.9" r="6.2" stroke-width="7.0"/><circle cx="1202.7" cy="386.5" r="6.2" stroke-width="7.0"/><circle cx="1206.2" cy="396.7" r="6.2" stroke-width="7.0"/><circle cx="1209.7" cy="407.5" r="6.2" stroke-width="7.0"/><circle cx="1213.3" cy="418.6" r="6.2" stroke-width="7.0"/><circle cx="1216.8" cy="430.3" r="6.2" stroke-width="7.0"/><circle cx="1220.3" cy="442.9" r="6.2" stroke-width="7.0"/><circle cx="1223.8" cy="455.8" r="6.2" stroke-width="7.0"/><circle cx="1227.3" cy="468.7" r="6.2" stroke-width="7.0"/><circle cx="1230.8" cy="481.3" r="6.2" stroke-width="7.0"/><circle cx="1234.3" cy="493.3" r="6.2" stroke-width="7.0"/><circle cx="1237.9" cy="504.9" r="6.2" stroke-width="7.0"/><circle cx="1241.4" cy="516.5" r="6.2" stroke-width="7.0"/><circle cx="1244.9" cy="528.3" r="6.2" stroke-width="7.0"/><circle cx="1248.4" cy="540.9" r="6.2" stroke-width="7.0"/><circle cx="1251.9" cy="554.5" r="6.2" stroke-width="7.0"/><circle cx="1255.4" cy="569.2" r="6.2" stroke-width="7.0"/><circle cx="1258.9" cy="584.4" r="6.2" stroke-width="7.0"/><circle cx="1262.5" cy="599.8" r="6.2" stroke-width="7.0"/><circle cx="1266.0" cy="615.3" r="6.2" stroke-width="7.0"/><circle cx="1269.5" cy="631.0" r="6.2" stroke-width="7.0"/><circle cx="1273.0" cy="646.9" r="6.2" stroke-width="7.0"/><circle cx="1276.5" cy="662.8" r="6.2" stroke-width="7.0"/><circle cx="1280.0" cy="678.8" r="6.2" stroke-width="7.0"/><circle cx="1283.5" cy="694.9" r="6.2" stroke-width="7.0"/><circle cx="1287.1" cy="711.1" r="6.2" stroke-width="7.0"/><circle cx="1290.6" cy="727.4" r="6.2" stroke-width="7.0"/><circle cx="1294.1" cy="743.7" r="6.2" stroke-width="7.0"/><circle cx="1297.6" cy="760.0" r="6.2" stroke-width="7.0"/><circle cx="1301.1" cy="776.3" r="6.2" stroke-width="7.0"/><circle cx="1304.6" cy="792.5" r="6.2" stroke-width="7.0"/><circle cx="1308.1" cy="808.6" r="6.2" stroke-width="7.0"/><circle cx="1311.7" cy="824.7" r="6.2" stroke-width="7.0"/><circle cx="1315.2" cy="840.7" r="6.2" stroke-width="7.0"/><circle cx="1318.7" cy="856.7" r="6.2" stroke-width="7.0"/><circle cx="1322.2" cy="872.7" r="6.2" stroke-width="7.0"/><circle cx="1325.7" cy="888.9" r="6.2" stroke-width="7.0"/><circle cx="1329.2" cy="905.3" r="6.2" stroke-width="7.0"/><circle cx="1332.7" cy="922.2" r="6.2" stroke-width="7.0"/><circle cx="1336.3" cy="939.9" r="6.2" stroke-width="7.0"/><circle cx="1339.8" cy="957.7" r="6.2" stroke-width="7.0"/><circle cx="1343.3" cy="975.1" r="6.2" stroke-width="7.0"/><circle cx="1346.8" cy="991.2" r="6.2" stroke-width="7.0"/><circle cx="1350.3" cy="1005.5" r="6.2" stroke-width="7.0"/><circle cx="1353.8" cy="1018.7" r="6.2" stroke-width="7.0"/><circle cx="1357.3" cy="1031.0" r="6.2" stroke-width="7.0"/><circle cx="1360.8" cy="1042.7" r="6.2" stroke-width="7.0"/><circle cx="1364.4" cy="1053.9" r="6.2" stroke-width="7.0"/><circle cx="1367.9" cy="1064.9" r="6.2" stroke-width="7.0"/><circle cx="1371.4" cy="1075.9" r="6.2" stroke-width="7.0"/><circle cx="1374.9" cy="1087.0" r="6.2" stroke-width="7.0"/><circle cx="1378.4" cy="1098.0" r="6.2" stroke-width="7.0"/><circle cx="1381.9" cy="1108.8" r="6.2" stroke-width="7.0"/><circle cx="1385.4" cy="1119.4" r="6.2" stroke-width="7.0"/><circle cx="1389.0" cy="1129.7" r="6.2" stroke-width="7.0"/><circle cx="1392.5" cy="1139.6" r="6.2" stroke-width="7.0"/><circle cx="1396.0" cy="1149.3" r="6.2" stroke-width="7.0"/><circle cx="1399.5" cy="1158.9" r="6.2" stroke-width="7.0"/><circle cx="1403.0" cy="1168.3" r="6.2" stroke-width="7.0"/><circle cx="1406.5" cy="1177.3" r="6.2" stroke-width="7.0"/><circle cx="1410.0" cy="1185.6" r="6.2" stroke-width="7.0"/><circle cx="1413.6" cy="1193.1" r="6.2" stroke-width="7.0"/><circle cx="1417.1" cy="1200.3" r="6.2" stroke-width="7.0"/><circle cx="1420.6" cy="1207.1" r="6.2" stroke-width="7.0"/><circle cx="1424.1" cy="1213.6" r="6.2" stroke-width="7.0"/><circle cx="1427.6" cy="1219.4" r="6.2" stroke-width="7.0"/><circle cx="1431.1" cy="1224.5" r="6.2" stroke-width="7.0"/><circle cx="1434.6" cy="1228.7" r="6.2" stroke-width="7.0"/><circle cx="1438.2" cy="1232.3" r="6.2" stroke-width="7.0"/><circle cx="1441.7" cy="1235.6" r="6.2" stroke-width="7.0"/><circle cx="1445.2" cy="1238.6" r="6.2" stroke-width="7.0"/><circle cx="1448.7" cy="1241.4" r="6.2" stroke-width="7.0"/><circle cx="1452.2" cy="1243.9" r="6.2" stroke-width="7.0"/><circle cx="1455.7" cy="1246.2" r="6.2" stroke-width="7.0"/><circle cx="1459.2" cy="1248.4" r="6.2" stroke-width="7.0"/><circle cx="1462.8" cy="1250.4" r="6.2" stroke-width="7.0"/><circle cx="1466.3" cy="1252.4" r="6.2" stroke-width="7.0"/><circle cx="1469.8" cy="1254.4" r="6.2" stroke-width="7.0"/><circle cx="1473.3" cy="1256.4" r="6.2" stroke-width="7.0"/><circle cx="1476.8" cy="1258.2" r="6.2" stroke-width="7.0"/><circle cx="1480.3" cy="1259.4" r="6.2" stroke-width="7.0"/><circle cx="1483.8" cy="1262.4" r="6.2" stroke-width="7.0"/><circle cx="1487.4" cy="1262.2" r="6.2" stroke-width="7.0"/><circle cx="1490.9" cy="1263.6" r="6.2" stroke-width="7.0"/><circle cx="1494.4" cy="1261.8" r="6.2" stroke-width="7.0"/><circle cx="1497.9" cy="1264.1" r="6.2" stroke-width="7.0"/><circle cx="1501.4" cy="1262.0" r="6.2" stroke-width="7.0"/><circle cx="1504.9" cy="1261.9" r="6.2" stroke-width="7.0"/><circle cx="1508.4" cy="1264.2" r="6.2" stroke-width="7.0"/><circle cx="1512.0" cy="1263.7" r="6.2" stroke-width="7.0"/><circle cx="1515.5" cy="1265.2" r="6.2" stroke-width="7.0"/><circle cx="1519.0" cy="1267.5" r="6.2" stroke-width="7.0"/><circle cx="1522.5" cy="1264.3" r="6.2" stroke-width="7.0"/><circle cx="1526.0" cy="1264.6" r="6.2" stroke-width="7.0"/><circle cx="1529.5" cy="1265.7" r="6.2" stroke-width="7.0"/><circle cx="1533.0" cy="1266.1" r="6.2" stroke-width="7.0"/><circle cx="1536.5" cy="1265.3" r="6.2" stroke-width="7.0"/><circle cx="1540.1" cy="1265.3" r="6.2" stroke-width="7.0"/><circle cx="1543.6" cy="1266.5" r="6.2" stroke-width="7.0"/><circle cx="1547.1" cy="1266.3" r="6.2" stroke-width="7.0"/><circle cx="1550.6" cy="1264.4" r="6.2" stroke-width="7.0"/><circle cx="1554.1" cy="1265.6" r="6.2" stroke-width="7.0"/><circle cx="1557.6" cy="1265.7" r="6.2" stroke-width="7.0"/><circle cx="1561.1" cy="1264.5" r="6.2" stroke-width="7.0"/><circle cx="1564.7" cy="1266.1" r="6.2" stroke-width="7.0"/><circle cx="1568.2" cy="1264.7" r="6.2" stroke-width="7.0"/><circle cx="1571.7" cy="1266.9" r="6.2" stroke-width="7.0"/><circle cx="1575.2" cy="1266.0" r="6.2" stroke-width="7.0"/><circle cx="1578.7" cy="1265.9" r="6.2" stroke-width="7.0"/><circle cx="1582.2" cy="1265.1" r="6.2" stroke-width="7.0"/><circle cx="1585.7" cy="1265.7" r="6.2" stroke-width="7.0"/><circle cx="1589.3" cy="1263.4" r="6.2" stroke-width="7.0"/><circle cx="1592.8" cy="1264.5" r="6.2" stroke-width="7.0"/><circle cx="1596.3" cy="1266.3" r="6.2" stroke-width="7.0"/><circle cx="1599.8" cy="1263.5" r="6.2" stroke-width="7.0"/><circle cx="1603.3" cy="1266.9" r="6.2" stroke-width="7.0"/><circle cx="1606.8" cy="1263.8" r="6.2" stroke-width="7.0"/><circle cx="1610.3" cy="1266.8" r="6.2" stroke-width="7.0"/><circle cx="1613.9" cy="1264.9" r="6.2" stroke-width="7.0"/><circle cx="1617.4" cy="1266.9" r="6.2" stroke-width="7.0"/><circle cx="1620.9" cy="1266.1" r="6.2" stroke-width="7.0"/><circle cx="1624.4" cy="1264.1" r="6.2" stroke-width="7.0"/><circle cx="1627.9" cy="1267.5" r="6.2" stroke-width="7.0"/><circle cx="1631.4" cy="1267.7" r="6.2" stroke-width="7.0"/><circle cx="1634.9" cy="1266.0" r="6.2" stroke-width="7.0"/><circle cx="1638.5" cy="1265.7" r="6.2" stroke-width="7.0"/><circle cx="1642.0" cy="1265.9" r="6.2" stroke-width="7.0"/><circle cx="1645.5" cy="1264.9" r="6.2" stroke-width="7.0"/><circle cx="1649.0" cy="1267.4" r="6.2" stroke-width="7.0"/><circle cx="1652.5" cy="1265.5" r="6.2" stroke-width="7.0"/><circle cx="1656.0" cy="1266.1" r="6.2" stroke-width="7.0"/><circle cx="1659.5" cy="1265.2" r="6.2" stroke-width="7.0"/><circle cx="1663.1" cy="1265.5" r="6.2" stroke-width="7.0"/><circle cx="1666.6" cy="1264.7" r="6.2" stroke-width="7.0"/><circle cx="1670.1" cy="1267.8" r="6.2" stroke-width="7.0"/><circle cx="1673.6" cy="1266.1" r="6.2" stroke-width="7.0"/><circle cx="1677.1" cy="1267.5" r="6.2" stroke-width="7.0"/><circle cx="1680.6" cy="1266.4" r="6.2" stroke-width="7.0"/><circle cx="1684.1" cy="1265.6" r="6.2" stroke-width="7.0"/><circle cx="1687.7" cy="1266.0" r="6.2" stroke-width="7.0"/><circle cx="1691.2" cy="1265.8" r="6.2" stroke-width="7.0"/><circle cx="1694.7" cy="1266.5" r="6.2" stroke-width="7.0"/><circle cx="1698.2" cy="1266.1" r="6.2" stroke-width="7.0"/><circle cx="1701.7" cy="1266.2" r="6.2" stroke-width="7.0"/><circle cx="1705.2" cy="1264.9" r="6.2" stroke-width="7.0"/><circle cx="1708.7" cy="1265.6" r="6.2" stroke-width="7.0"/><circle cx="1712.2" cy="1268.6" r="6.2" stroke-width="7.0"/><circle cx="1715.8" cy="1265.8" r="6.2" stroke-width="7.0"/><circle cx="1719.3" cy="1265.4" r="6.2" stroke-width="7.0"/><circle cx="1722.8" cy="1267.1" r="6.2" stroke-width="7.0"/><circle cx="1726.3" cy="1268.4" r="6.2" stroke-width="7.0"/><circle cx="1729.8" cy="1265.0" r="6.2" stroke-width="7.0"/><circle cx="1733.3" cy="1266.6" r="6.2" stroke-width="7.0"/><circle cx="1736.8" cy="1266.1" r="6.2" stroke-width="7.0"/><circle cx="1740.4" cy="1264.8" r="6.2" stroke-width="7.0"/><circle cx="1743.9" cy="1267.8" r="6.2" stroke-width="7.0"/><circle cx="1747.4" cy="1266.9" r="6.2" stroke-width="7.0"/><circle cx="1750.9" cy="1267.1" r="6.2" stroke-width="7.0"/><circle cx="1754.4" cy="1266.1" r="6.2" stroke-width="7.0"/><circle cx="1757.9" cy="1267.6" r="6.2" stroke-width="7.0"/><circle cx="1761.4" cy="1266.4" r="6.2" stroke-width="7.0"/><circle cx="1765.0" cy="1267.0" r="6.2" stroke-width="7.0"/><circle cx="1768.5" cy="1265.8" r="6.2" stroke-width="7.0"/><circle cx="1772.0" cy="1265.7" r="6.2" stroke-width="7.0"/><circle cx="1775.5" cy="1268.8" r="6.2" stroke-width="7.0"/><circle cx="1779.0" cy="1266.7" r="6.2" stroke-width="7.0"/><circle cx="1782.5" cy="1267.7" r="6.2" stroke-width="7.0"/><circle cx="1786.0" cy="1267.3" r="6.2" stroke-width="7.0"/><circle cx="1789.6" cy="1266.9" r="6.2" stroke-width="7.0"/><circle cx="1793.1" cy="1266.8" r="6.2" stroke-width="7.0"/><circle cx="1796.6" cy="1268.2" r="6.2" stroke-width="7.0"/></g><polyline points="218.8,1059.0 222.3,1041.9 225.8,1026.9 229.3,1011.8 232.9,993.2 236.4,974.2 239.9,951.1 243.4,927.7 246.9,908.3 250.4,888.5 253.9,871.9 257.5,864.7 261.0,862.4 264.5,861.2 268.0,860.3 271.5,859.1 275.0,857.6 278.5,855.7 282.1,852.9 285.6,847.1 289.1,839.8 292.6,832.0 296.1,809.1 299.6,780.1 303.1,758.7 306.6,730.3 310.2,691.8 313.7,636.7 317.2,596.1 320.7,551.2 324.2,505.2 327.7,462.1 331.2,419.5 334.8,388.5 338.3,360.0 341.8,325.0 345.3,302.9 348.8,273.9 352.3,257.4 355.8,241.2 359.4,226.9 362.9,216.9 366.4,206.6 369.9,197.8 373.4,192.5 376.9,189.4 380.4,187.6 384.0,186.5 387.5,185.8 391.0,185.4 394.5,185.0 398.0,184.5 401.5,184.0 405.0,183.3 408.6,182.7 412.1,182.0 415.6,181.4 419.1,180.8 422.6,180.2 426.1,179.6 429.6,179.0 433.2,178.4 436.7,177.9 440.2,177.5 443.7,177.1 447.2,176.7 450.7,176.3 454.2,176.0 457.8,175.7 461.3,175.4 464.8,175.1 468.3,174.8 471.8,174.5 475.3,174.2 478.8,174.0 482.4,173.9 485.9,173.8 489.4,173.7 492.9,173.6 496.4,173.5 499.9,173.4 503.4,173.4 506.9,173.3 510.5,173.2 514.0,173.2 517.5,173.1 521.0,173.1 524.5,173.0 528.0,173.0 531.5,172.9 535.1,172.9 538.6,172.8 542.1,172.8 545.6,172.7 549.1,172.7 552.6,172.6 556.1,172.6 559.7,172.5 563.2,172.5 566.7,172.4 570.2,172.4 573.7,172.4 577.2,172.3 580.7,172.3 584.3,172.3 587.8,172.2 591.3,172.2 594.8,172.2 598.3,172.2 601.8,172.2 605.3,172.2 608.9,172.2 612.4,172.2 615.9,172.2 619.4,172.2 622.9,172.2 626.4,172.2 629.9,172.2 633.5,172.2 637.0,172.3 640.5,172.3 644.0,172.3 647.5,172.3 651.0,172.3 654.5,172.3 658.0,172.3 661.6,172.4 665.1,172.4 668.6,172.4 672.1,172.4 675.6,172.5 679.1,172.5 682.6,172.5 686.2,172.7 689.7,172.8 693.2,173.1 696.7,173.3 700.2,173.5 703.7,173.7 707.2,174.0 710.8,174.3 714.3,174.6 717.8,174.9 721.3,175.2 724.8,175.5 728.3,175.8 731.8,176.2 735.4,176.6 738.9,177.0 742.4,177.4 745.9,177.8 749.4,178.2 752.9,178.7 756.4,179.1 760.0,179.6 763.5,180.0 767.0,180.4 770.5,180.8 774.0,181.2 777.5,181.6 781.0,182.2 784.6,182.9 788.1,184.0 791.6,186.3 795.1,190.1 798.6,192.7 802.1,170.4 805.6,171.2 809.2,171.9 812.7,172.5 816.2,173.1 819.7,173.5 823.2,174.0 826.7,174.4 830.2,174.8 833.8,175.3 837.3,175.7 840.8,176.2 844.3,176.8 847.8,177.4 851.3,178.0 854.8,178.6 858.3,179.3 861.9,179.9 865.4,180.5 868.9,181.1 872.4,181.8 875.9,182.4 879.4,183.1 882.9,183.8 886.5,184.5 890.0,185.3 893.5,186.0 897.0,186.9 900.5,187.7 904.0,188.7 907.5,189.7 911.1,190.8 914.6,191.9 918.1,193.1 921.6,194.2 925.1,195.4 928.6,196.6 932.1,197.8 935.7,199.0 939.2,200.1 942.7,201.3 946.2,202.4 949.7,203.4 953.2,204.4 956.7,205.3 960.3,206.2 963.8,207.1 967.3,207.9 970.8,208.7 974.3,209.5 977.8,210.3 981.3,211.1 984.9,211.9 988.4,212.6 991.9,213.4 995.4,214.2 998.9,215.0 1002.4,215.8 1005.9,216.6 1009.5,217.3 1013.0,218.1 1016.5,218.9 1020.0,219.6 1023.5,220.4 1027.0,221.2 1030.5,222.0 1034.0,222.8 1037.6,223.6 1041.1,224.4 1044.6,225.3 1048.1,226.3 1051.6,227.2 1055.1,228.3 1058.6,229.3 1062.2,230.5 1065.7,231.7 1069.2,232.9 1072.7,234.2 1076.2,235.6 1079.7,237.0 1083.2,238.4 1086.8,239.9 1090.3,241.4 1093.8,242.9 1097.3,244.6 1100.8,246.5 1104.3,248.5 1107.8,250.7 1111.4,253.5 1114.9,256.7 1118.4,260.2 1121.9,263.8 1125.4,267.5 1128.9,271.2 1132.4,275.1 1136.0,279.2 1139.5,283.5 1143.0,288.1 1146.5,293.0 1150.0,298.2 1153.5,303.5 1157.0,308.8 1160.6,314.3 1164.1,320.6 1167.6,328.4 1171.1,337.2 1174.6,346.8 1178.1,356.8 1181.6,366.9 1185.1,376.7 1188.7,386.4 1192.2,396.2 1195.7,406.2 1199.2,416.4 1202.7,427.0 1206.2,438.0 1209.7,449.5 1213.3,461.4 1216.8,473.7 1220.3,486.6 1223.8,499.8 1227.3,512.6 1230.8,525.3 1234.3,538.0 1237.9,551.0 1241.4,564.4 1244.9,578.2 1248.4,592.3 1251.9,606.9 1255.4,622.2 1258.9,638.5 1262.5,654.4 1266.0,668.4 1269.5,679.8 1273.0,691.5 1276.5,705.7 1280.0,721.4 1283.5,738.1 1287.1,755.2 1290.6,772.2 1294.1,788.4 1297.6,804.3 1301.1,820.1 1304.6,835.8 1308.1,851.4 1311.7,866.8 1315.2,882.0 1318.7,897.0 1322.2,911.9 1325.7,927.0 1329.2,942.7 1332.7,958.8 1336.3,974.9 1339.8,990.7 1343.3,1006.2 1346.8,1021.5 1350.3,1036.2 1353.8,1049.8 1357.3,1062.6 1360.8,1074.9 1364.4,1087.1 1367.9,1099.8 1371.4,1112.8 1374.9,1125.7 1378.4,1138.0 1381.9,1149.2 1385.4,1160.2 1389.0,1170.5 1392.5,1179.6 1396.0,1187.2 1399.5,1193.8 1403.0,1199.7 1406.5,1205.1 1410.0,1210.4 1413.6,1215.5 1417.1,1220.7 1420.6,1225.8 1424.1,1230.6 1427.6,1235.0 1431.1,1238.8 1434.6,1242.0 1438.2,1244.9 1441.7,1247.6 1445.2,1250.0 1448.7,1252.2 1452.2,1254.2 1455.7,1255.8 1459.2,1257.1 1462.8,1258.4 1466.3,1259.6 1469.8,1260.8 1473.3,1261.8 1476.8,1262.6 1480.3,1263.1 1483.8,1263.8 1487.4,1264.3 1490.9,1265.8 1494.4,1265.6 1497.9,1265.5 1501.4,1264.8 1504.9,1264.2 1508.4,1266.7 1512.0,1266.9 1515.5,1266.0 1519.0,1266.7 1522.5,1267.0 1526.0,1267.1 1529.5,1267.2 1533.0,1265.8 1536.5,1267.8 1540.1,1265.0 1543.6,1267.1 1547.1,1266.8 1550.6,1267.1 1554.1,1268.1 1557.6,1267.7 1561.1,1265.1 1564.7,1264.5 1568.2,1267.0 1571.7,1265.2 1575.2,1266.1 1578.7,1267.0 1582.2,1264.5 1585.7,1264.1 1589.3,1266.4 1592.8,1266.1 1596.3,1265.8 1599.8,1266.1 1603.3,1265.2 1606.8,1264.5 1610.3,1265.9 1613.9,1265.0 1617.4,1264.4 1620.9,1266.5 1624.4,1265.9 1627.9,1266.4 1631.4,1265.0 1634.9,1265.4 1638.5,1265.1 1642.0,1265.2 1645.5,1266.3 1649.0,1265.4 1652.5,1266.6 1656.0,1266.7 1659.5,1268.4 1663.1,1265.1 1666.6,1267.4 1670.1,1266.5 1673.6,1266.6 1677.1,1265.3 1680.6,1266.3 1684.1,1267.6 1687.7,1266.8 1691.2,1267.0 1694.7,1266.7 1698.2,1268.2 1701.7,1267.1 1705.2,1265.1 1708.7,1266.5 1712.2,1265.2 1715.8,1265.2 1719.3,1266.7 1722.8,1268.6 1726.3,1267.4 1729.8,1266.2 1733.3,1266.5 1736.8,1268.6 1740.4,1267.7 1743.9,1267.6 1747.4,1267.5 1750.9,1267.6 1754.4,1268.4 1757.9,1268.2 1761.4,1267.9 1765.0,1266.7 1768.5,1268.3 1772.0,1267.1 1775.5,1268.9 1779.0,1266.6 1782.5,1267.8 1786.0,1267.9 1789.6,1266.6 1793.1,1269.7 1796.6,1269.5 1800.1,1267.5" fill="none" stroke="#ff0080" stroke-width="3.5" stroke-linejoin="round"/><g fill="#fff" stroke="#ff0080"><circle cx="218.8" cy="1059.0" r="4.7" stroke-width="6.2"/><circle cx="222.3" cy="1041.9" r="4.7" stroke-width="6.2"/><circle cx="225.8" cy="1026.9" r="4.7" stroke-width="6.2"/><circle cx="229.3" cy="1011.8" r="4.7" stroke-width="6.2"/><circle cx="232.9" cy="993.2" r="4.7" stroke-width="6.2"/><circle cx="236.4" cy="974.2" r="4.7" stroke-width="6.2"/><circle cx="239.9" cy="951.1" r="4.7" stroke-width="6.2"/><circle cx="243.4" cy="927.7" r="4.7" stroke-width="6.2"/><circle cx="246.9" cy="908.3" r="4.7" stroke-width="6.2"/><circle cx="250.4" cy="888.5" r="4.7" stroke-width="6.2"/><circle cx="253.9" cy="871.9" r="4.7" stroke-width="6.2"/><circle cx="257.5" cy="864.7" r="4.7" stroke-width="6.2"/><circle cx="261.0" cy="862.4" r="4.7" stroke-width="6.2"/><circle cx="264.5" cy="861.2" r="4.7" stroke-width="6.2"/><circle cx="268.0" cy="860.3" r="4.7" stroke-width="6.2"/><circle cx="271.5" cy="859.1" r="4.7" stroke-width="6.2"/><circle cx="275.0" cy="857.6" r="4.7" stroke-width="6.2"/><circle cx="278.5" cy="855.7" r="4.7" stroke-width="6.2"/><circle cx="282.1" cy="852.9" r="4.7" stroke-width="6.2"/><circle cx="285.6" cy="847.1" r="4.7" stroke-width="6.2"/><circle cx="289.1" cy="839.8" r="4.7" stroke-width="6.2"/><circle cx="292.6" cy="832.0" r="4.7" stroke-width="6.2"/><circle cx="296.1" cy="809.1" r="4.7" stroke-width="6.2"/><circle cx="299.6" cy="780.1" r="4.7" stroke-width="6.2"/><circle cx="303.1" cy="758.7" r="4.7" stroke-width="6.2"/><circle cx="306.6" cy="730.3" r="4.7" stroke-width="6.2"/><circle cx="310.2" cy="691.8" r="4.7" stroke-width="6.2"/><circle cx="313.7" cy="636.7" r="4.7" stroke-width="6.2"/><circle cx="317.2" cy="596.1" r="4.7" stroke-width="6.2"/><circle cx="320.7" cy="551.2" r="4.7" stroke-width="6.2"/><circle cx="324.2" cy="505.2" r="4.7" stroke-width="6.2"/><circle cx="327.7" cy="462.1" r="4.7" stroke-width="6.2"/><circle cx="331.2" cy="419.5" r="4.7" stroke-width="6.2"/><circle cx="334.8" cy="388.5" r="4.7" stroke-width="6.2"/><circle cx="338.3" cy="360.0" r="4.7" stroke-width="6.2"/><circle cx="341.8" cy="325.0" r="4.7" stroke-width="6.2"/><circle cx="345.3" cy="302.9" r="4.7" stroke-width="6.2"/><circle cx="348.8" cy="273.9" r="4.7" stroke-width="6.2"/><circle cx="352.3" cy="257.4" r="4.7" stroke-width="6.2"/><circle cx="355.8" cy="241.2" r="4.7" stroke-width="6.2"/><circle cx="359.4" cy="226.9" r="4.7" stroke-width="6.2"/><circle cx="362.9" cy="216.9" r="4.7" stroke-width="6.2"/><circle cx="366.4" cy="206.6" r="4.7" stroke-width="6.2"/><circle cx="369.9" cy="197.8" r="4.7" stroke-width="6.2"/><circle cx="373.4" cy="192.5" r="4.7" stroke-width="6.2"/><circle cx="376.9" cy="189.4" r="4.7" stroke-width="6.2"/><circle cx="380.4" cy="187.6" r="4.7" stroke-width="6.2"/><circle cx="384.0" cy="186.5" r="4.7" stroke-width="6.2"/><circle cx="387.5" cy="185.8" r="4.7" stroke-width="6.2"/><circle cx="391.0" cy="185.4" r="4.7" stroke-width="6.2"/><circle cx="394.5" cy="185.0" r="4.7" stroke-width="6.2"/><circle cx="398.0" cy="184.5" r="4.7" stroke-width="6.2"/><circle cx="401.5" cy="184.0" r="4.7" stroke-width="6.2"/><circle cx="405.0" cy="183.3" r="4.7" stroke-width="6.2"/><circle cx="408.6" cy="182.7" r="4.7" stroke-width="6.2"/><circle cx="412.1" cy="182.0" r="4.7" stroke-width="6.2"/><circle cx="415.6" cy="181.4" r="4.7" stroke-width="6.2"/><circle cx="419.1" cy="180.8" r="4.7" stroke-width="6.2"/><circle cx="422.6" cy="180.2" r="4.7" stroke-width="6.2"/><circle cx="426.1" cy="179.6" r="4.7" stroke-width="6.2"/><circle cx="429.6" cy="179.0" r="4.7" stroke-width="6.2"/><circle cx="433.2" cy="178.4" r="4.7" stroke-width="6.2"/><circle cx="436.7" cy="177.9" r="4.7" stroke-width="6.2"/><circle cx="440.2" cy="177.5" r="4.7" stroke-width="6.2"/><circle cx="443.7" cy="177.1" r="4.7" stroke-width="6.2"/><circle cx="447.2" cy="176.7" r="4.7" stroke-width="6.2"/><circle cx="450.7" cy="176.3" r="4.7" stroke-width="6.2"/><circle cx="454.2" cy="176.0" r="4.7" stroke-width="6.2"/><circle cx="457.8" cy="175.7" r="4.7" stroke-width="6.2"/><circle cx="461.3" cy="175.4" r="4.7" stroke-width="6.2"/><circle cx="464.8" cy="175.1" r="4.7" stroke-width="6.2"/><circle cx="468.3" cy="174.8" r="4.7" stroke-width="6.2"/><circle cx="471.8" cy="174.5" r="4.7" stroke-width="6.2"/><circle cx="475.3" cy="174.2" r="4.7" stroke-width="6.2"/><circle cx="478.8" cy="174.0" r="4.7" stroke-width="6.2"/><circle cx="482.4" cy="173.9" r="4.7" stroke-width="6.2"/><circle cx="485.9" cy="173.8" r="4.7" stroke-width="6.2"/><circle cx="489.4" cy="173.7" r="4.7" stroke-width="6.2"/><circle cx="492.9" cy="173.6" r="4.7" stroke-width="6.2"/><circle cx="496.4" cy="173.5" r="4.7" stroke-width="6.2"/><circle cx="499.9" cy="173.4" r="4.7" stroke-width="6.2"/><circle cx="503.4" cy="173.4" r="4.7" stroke-width="6.2"/><circle cx="506.9" cy="173.3" r="4.7" stroke-width="6.2"/><circle cx="510.5" cy="173.2" r="4.7" stroke-width="6.2"/><circle cx="514.0" cy="173.2" r="4.7" stroke-width="6.2"/><circle cx="517.5" cy="173.1" r="4.7" stroke-width="6.2"/><circle cx="521.0" cy="173.1" r="4.7" stroke-width="6.2"/><circle cx="524.5" cy="173.0" r="4.7" stroke-width="6.2"/><circle cx="528.0" cy="173.0" r="4.7" stroke-width="6.2"/><circle cx="531.5" cy="172.9" r="4.7" stroke-width="6.2"/><circle cx="535.1" cy="172.9" r="4.7" stroke-width="6.2"/><circle cx="538.6" cy="172.8" r="4.7" stroke-width="6.2"/><circle cx="542.1" cy="172.8" r="4.7" stroke-width="6.2"/><circle cx="545.6" cy="172.7" r="4.7" stroke-width="6.2"/><circle cx="549.1" cy="172.7" r="4.7" stroke-width="6.2"/><circle cx="552.6" cy="172.6" r="4.7" stroke-width="6.2"/><circle cx="556.1" cy="172.6" r="4.7" stroke-width="6.2"/><circle cx="559.7" cy="172.5" r="4.7" stroke-width="6.2"/><circle cx="563.2" cy="172.5" r="4.7" stroke-width="6.2"/><circle cx="566.7" cy="172.4" r="4.7" stroke-width="6.2"/><circle cx="570.2" cy="172.4" r="4.7" stroke-width="6.2"/><circle cx="573.7" cy="172.4" r="4.7" stroke-width="6.2"/><circle cx="577.2" cy="172.3" r="4.7" stroke-width="6.2"/><circle cx="580.7" cy="172.3" r="4.7" stroke-width="6.2"/><circle cx="584.3" cy="172.3" r="4.7" stroke-width="6.2"/><circle cx="587.8" cy="172.2" r="4.7" stroke-width="6.2"/><circle cx="591.3" cy="172.2" r="4.7" stroke-width="6.2"/><circle cx="594.8" cy="172.2" r="4.7" stroke-width="6.2"/><circle cx="598.3" cy="172.2" r="4.7" stroke-width="6.2"/><circle cx="601.8" cy="172.2" r="4.7" stroke-width="6.2"/><circle cx="605.3" cy="172.2" r="4.7" stroke-width="6.2"/><circle cx="608.9" cy="172.2" r="4.7" stroke-width="6.2"/><circle cx="612.4" cy="172.2" r="4.7" stroke-width="6.2"/><circle cx="615.9" cy="172.2" r="4.7" stroke-width="6.2"/><circle cx="619.4" cy="172.2" r="4.7" stroke-width="6.2"/><circle cx="622.9" cy="172.2" r="4.7" stroke-width="6.2"/><circle cx="626.4" cy="172.2" r="4.7" stroke-width="6.2"/><circle cx="629.9" cy="172.2" r="4.7" stroke-width="6.2"/><circle cx="633.5" cy="172.2" r="4.7" stroke-width="6.2"/><circle cx="637.0" cy="172.3" r="4.7" stroke-width="6.2"/><circle cx="640.5" cy="172.3" r="4.7" stroke-width="6.2"/><circle cx="644.0" cy="172.3" r="4.7" stroke-width="6.2"/><circle cx="647.5" cy="172.3" r="4.7" stroke-width="6.2"/><circle cx="651.0" cy="172.3" r="4.7" stroke-width="6.2"/><circle cx="654.5" cy="172.3" r="4.7" stroke-width="6.2"/><circle cx="658.0" cy="172.3" r="4.7" stroke-width="6.2"/><circle cx="661.6" cy="172.4" r="4.7" stroke-width="6.2"/><circle cx="665.1" cy="172.4" r="4.7" stroke-width="6.2"/><circle cx="668.6" cy="172.4" r="4.7" stroke-width="6.2"/><circle cx="672.1" cy="172.4" r="4.7" stroke-width="6.2"/><circle cx="675.6" cy="172.5" r="4.7" stroke-width="6.2"/><circle cx="679.1" cy="172.5" r="4.7" stroke-width="6.2"/><circle cx="682.6" cy="172.5" r="4.7" stroke-width="6.2"/><circle cx="686.2" cy="172.7" r="4.7" stroke-width="6.2"/><circle cx="689.7" cy="172.8" r="4.7" stroke-width="6.2"/><circle cx="693.2" cy="173.1" r="4.7" stroke-width="6.2"/><circle cx="696.7" cy="173.3" r="4.7" stroke-width="6.2"/><circle cx="700.2" cy="173.5" r="4.7" stroke-width="6.2"/><circle cx="703.7" cy="173.7" r="4.7" stroke-width="6.2"/><circle cx="707.2" cy="174.0" r="4.7" stroke-width="6.2"/><circle cx="710.8" cy="174.3" r="4.7" stroke-width="6.2"/><circle cx="714.3" cy="174.6" r="4.7" stroke-width="6.2"/><circle cx="717.8" cy="174.9" r="4.7" stroke-width="6.2"/><circle cx="721.3" cy="175.2" r="4.7" stroke-width="6.2"/><circle cx="724.8" cy="175.5" r="4.7" stroke-width="6.2"/><circle cx="728.3" cy="175.8" r="4.7" stroke-width="6.2"/><circle cx="731.8" cy="176.2" r="4.7" stroke-width="6.2"/><circle cx="735.4" cy="176.6" r="4.7" stroke-width="6.2"/><circle cx="738.9" cy="177.0" r="4.7" stroke-width="6.2"/><circle cx="742.4" cy="177.4" r="4.7" stroke-width="6.2"/><circle cx="745.9" cy="177.8" r="4.7" stroke-width="6.2"/><circle cx="749.4" cy="178.2" r="4.7" stroke-width="6.2"/><circle cx="752.9" cy="178.7" r="4.7" stroke-width="6.2"/><circle cx="756.4" cy="179.1" r="4.7" stroke-width="6.2"/><circle cx="760.0" cy="179.6" r="4.7" stroke-width="6.2"/><circle cx="763.5" cy="180.0" r="4.7" stroke-width="6.2"/><circle cx="767.0" cy="180.4" r="4.7" stroke-width="6.2"/><circle cx="770.5" cy="180.8" r="4.7" stroke-width="6.2"/><circle cx="774.0" cy="181.2" r="4.7" stroke-width="6.2"/><circle cx="777.5" cy="181.6" r="4.7" stroke-width="6.2"/><circle cx="781.0" cy="182.2" r="4.7" stroke-width="6.2"/><circle cx="784.6" cy="182.9" r="4.7" stroke-width="6.2"/><circle cx="788.1" cy="184.0" r="4.7" stroke-width="6.2"/><circle cx="791.6" cy="186.3" r="4.7" stroke-width="6.2"/><circle cx="795.1" cy="190.1" r="4.7" stroke-width="6.2"/><circle cx="798.6" cy="192.7" r="4.7" stroke-width="6.2"/><circle cx="802.1" cy="170.4" r="6.2" stroke-width="7.0"/><circle cx="805.6" cy="171.2" r="6.2" stroke-width="7.0"/><circle cx="809.2" cy="171.9" r="6.2" stroke-width="7.0"/><circle cx="812.7" cy="172.5" r="6.2" stroke-width="7.0"/><circle cx="816.2" cy="173.1" r="6.2" stroke-width="7.0"/><circle cx="819.7" cy="173.5" r="6.2" stroke-width="7.0"/><circle cx="823.2" cy="174.0" r="6.2" stroke-width="7.0"/><circle cx="826.7" cy="174.4" r="6.2" stroke-width="7.0"/><circle cx="830.2" cy="174.8" r="6.2" stroke-width="7.0"/><circle cx="833.8" cy="175.3" r="6.2" stroke-width="7.0"/><circle cx="837.3" cy="175.7" r="6.2" stroke-width="7.0"/><circle cx="840.8" cy="176.2" r="6.2" stroke-width="7.0"/><circle cx="844.3" cy="176.8" r="6.2" stroke-width="7.0"/><circle cx="847.8" cy="177.4" r="6.2" stroke-width="7.0"/><circle cx="851.3" cy="178.0" r="6.2" stroke-width="7.0"/><circle cx="854.8" cy="178.6" r="6.2" stroke-width="7.0"/><circle cx="858.3" cy="179.3" r="6.2" stroke-width="7.0"/><circle cx="861.9" cy="179.9" r="6.2" stroke-width="7.0"/><circle cx="865.4" cy="180.5" r="6.2" stroke-width="7.0"/><circle cx="868.9" cy="181.1" r="6.2" stroke-width="7.0"/><circle cx="872.4" cy="181.8" r="6.2" stroke-width="7.0"/><circle cx="875.9" cy="182.4" r="6.2" stroke-width="7.0"/><circle cx="879.4" cy="183.1" r="6.2" stroke-width="7.0"/><circle cx="882.9" cy="183.8" r="6.2" stroke-width="7.0"/><circle cx="886.5" cy="184.5" r="6.2" stroke-width="7.0"/><circle cx="890.0" cy="185.3" r="6.2" stroke-width="7.0"/><circle cx="893.5" cy="186.0" r="6.2" stroke-width="7.0"/><circle cx="897.0" cy="186.9" r="6.2" stroke-width="7.0"/><circle cx="900.5" cy="187.7" r="6.2" stroke-width="7.0"/><circle cx="904.0" cy="188.7" r="6.2" stroke-width="7.0"/><circle cx="907.5" cy="189.7" r="6.2" stroke-width="7.0"/><circle cx="911.1" cy="190.8" r="6.2" stroke-width="7.0"/><circle cx="914.6" cy="191.9" r="6.2" stroke-width="7.0"/><circle cx="918.1" cy="193.1" r="6.2" stroke-width="7.0"/><circle cx="921.6" cy="194.2" r="6.2" stroke-width="7.0"/><circle cx="925.1" cy="195.4" r="6.2" stroke-width="7.0"/><circle cx="928.6" cy="196.6" r="6.2" stroke-width="7.0"/><circle cx="932.1" cy="197.8" r="6.2" stroke-width="7.0"/><circle cx="935.7" cy="199.0" r="6.2" stroke-width="7.0"/><circle cx="939.2" cy="200.1" r="6.2" stroke-width="7.0"/><circle cx="942.7" cy="201.3" r="6.2" stroke-width="7.0"/><circle cx="946.2" cy="202.4" r="6.2" stroke-width="7.0"/><circle cx="949.7" cy="203.4" r="6.2" stroke-width="7.0"/><circle cx="953.2" cy="204.4" r="6.2" stroke-width="7.0"/><circle cx="956.7" cy="205.3" r="6.2" stroke-width="7.0"/><circle cx="960.3" cy="206.2" r="6.2" stroke-width="7.0"/><circle cx="963.8" cy="207.1" r="6.2" stroke-width="7.0"/><circle cx="967.3" cy="207.9" r="6.2" stroke-width="7.0"/><circle cx="970.8" cy="208.7" r="6.2" stroke-width="7.0"/><circle cx="974.3" cy="209.5" r="6.2" stroke-width="7.0"/><circle cx="977.8" cy="210.3" r="6.2" stroke-width="7.0"/><circle cx="981.3" cy="211.1" r="6.2" stroke-width="7.0"/><circle cx="984.9" cy="211.9" r="6.2" stroke-width="7.0"/><circle cx="988.4" cy="212.6" r="6.2" stroke-width="7.0"/><circle cx="991.9" cy="213.4" r="6.2" stroke-width="7.0"/><circle cx="995.4" cy="214.2" r="6.2" stroke-width="7.0"/><circle cx="998.9" cy="215.0" r="6.2" stroke-width="7.0"/><circle cx="1002.4" cy="215.8" r="6.2" stroke-width="7.0"/><circle cx="1005.9" cy="216.6" r="6.2" stroke-width="7.0"/><circle cx="1009.5" cy="217.3" r="6.2" stroke-width="7.0"/><circle cx="1013.0" cy="218.1" r="6.2" stroke-width="7.0"/><circle cx="1016.5" cy="218.9" r="6.2" stroke-width="7.0"/><circle cx="1020.0" cy="219.6" r="6.2" stroke-width="7.0"/><circle cx="1023.5" cy="220.4" r="6.2" stroke-width="7.0"/><circle cx="1027.0" cy="221.2" r="6.2" stroke-width="7.0"/><circle cx="1030.5" cy="222.0" r="6.2" stroke-width="7.0"/><circle cx="1034.0" cy="222.8" r="6.2" stroke-width="7.0"/><circle cx="1037.6" cy="223.6" r="6.2" stroke-width="7.0"/><circle cx="1041.1" cy="224.4" r="6.2" stroke-width="7.0"/><circle cx="1044.6" cy="225.3" r="6.2" stroke-width="7.0"/><circle cx="1048.1" cy="226.3" r="6.2" stroke-width="7.0"/><circle cx="1051.6" cy="227.2" r="6.2" stroke-width="7.0"/><circle cx="1055.1" cy="228.3" r="6.2" stroke-width="7.0"/><circle cx="1058.6" cy="229.3" r="6.2" stroke-width="7.0"/><circle cx="1062.2" cy="230.5" r="6.2" stroke-width="7.0"/><circle cx="1065.7" cy="231.7" r="6.2" stroke-width="7.0"/><circle cx="1069.2" cy="232.9" r="6.2" stroke-width="7.0"/><circle cx="1072.7" cy="234.2" r="6.2" stroke-width="7.0"/><circle cx="1076.2" cy="235.6" r="6.2" stroke-width="7.0"/><circle cx="1079.7" cy="237.0" r="6.2" stroke-width="7.0"/><circle cx="1083.2" cy="238.4" r="6.2" stroke-width="7.0"/><circle cx="1086.8" cy="239.9" r="6.2" stroke-width="7.0"/><circle cx="1090.3" cy="241.4" r="6.2" stroke-width="7.0"/><circle cx="1093.8" cy="242.9" r="6.2" stroke-width="7.0"/><circle cx="1097.3" cy="244.6" r="6.2" stroke-width="7.0"/><circle cx="1100.8" cy="246.5" r="6.2" stroke-width="7.0"/><circle cx="1104.3" cy="248.5" r="6.2" stroke-width="7.0"/><circle cx="1107.8" cy="250.7" r="6.2" stroke-width="7.0"/><circle cx="1111.4" cy="253.5" r="6.2" stroke-width="7.0"/><circle cx="1114.9" cy="256.7" r="6.2" stroke-width="7.0"/><circle cx="1118.4" cy="260.2" r="6.2" stroke-width="7.0"/><circle cx="1121.9" cy="263.8" r="6.2" stroke-width="7.0"/><circle cx="1125.4" cy="267.5" r="6.2" stroke-width="7.0"/><circle cx="1128.9" cy="271.2" r="6.2" stroke-width="7.0"/><circle cx="1132.4" cy="275.1" r="6.2" stroke-width="7.0"/><circle cx="1136.0" cy="279.2" r="6.2" stroke-width="7.0"/><circle cx="1139.5" cy="283.5" r="6.2" stroke-width="7.0"/><circle cx="1143.0" cy="288.1" r="6.2" stroke-width="7.0"/><circle cx="1146.5" cy="293.0" r="6.2" stroke-width="7.0"/><circle cx="1150.0" cy="298.2" r="6.2" stroke-width="7.0"/><circle cx="1153.5" cy="303.5" r="6.2" stroke-width="7.0"/><circle cx="1157.0" cy="308.8" r="6.2" stroke-width="7.0"/><circle cx="1160.6" cy="314.3" r="6.2" stroke-width="7.0"/><circle cx="1164.1" cy="320.6" r="6.2" stroke-width="7.0"/><circle cx="1167.6" cy="328.4" r="6.2" stroke-width="7.0"/><circle cx="1171.1" cy="337.2" r="6.2" stroke-width="7.0"/><circle cx="1174.6" cy="346.8" r="6.2" stroke-width="7.0"/><circle cx="1178.1" cy="356.8" r="6.2" stroke-width="7.0"/><circle cx="1181.6" cy="366.9" r="6.2" stroke-width="7.0"/><circle cx="1185.1" cy="376.7" r="6.2" stroke-width="7.0"/><circle cx="1188.7" cy="386.4" r="6.2" stroke-width="7.0"/><circle cx="1192.2" cy="396.2" r="6.2" stroke-width="7.0"/><circle cx="1195.7" cy="406.2" r="6.2" stroke-width="7.0"/><circle cx="1199.2" cy="416.4" r="6.2" stroke-width="7.0"/><circle cx="1202.7" cy="427.0" r="6.2" stroke-width="7.0"/><circle cx="1206.2" cy="438.0" r="6.2" stroke-width="7.0"/><circle cx="1209.7" cy="449.5" r="6.2" stroke-width="7.0"/><circle cx="1213.3" cy="461.4" r="6.2" stroke-width="7.0"/><circle cx="1216.8" cy="473.7" r="6.2" stroke-width="7.0"/><circle cx="1220.3" cy="486.6" r="6.2" stroke-width="7.0"/><circle cx="1223.8" cy="499.8" r="6.2" stroke-width="7.0"/><circle cx="1227.3" cy="512.6" r="6.2" stroke-width="7.0"/><circle cx="1230.8" cy="525.3" r="6.2" stroke-width="7.0"/><circle cx="1234.3" cy="538.0" r="6.2" stroke-width="7.0"/><circle cx="1237.9" cy="551.0" r="6.2" stroke-width="7.0"/><circle cx="1241.4" cy="564.4" r="6.2" stroke-width="7.0"/><circle cx="1244.9" cy="578.2" r="6.2" stroke-width="7.0"/><circle cx="1248.4" cy="592.3" r="6.2" stroke-width="7.0"/><circle cx="1251.9" cy="606.9" r="6.2" stroke-width="7.0"/><circle cx="1255.4" cy="622.2" r="6.2" stroke-width="7.0"/><circle cx="1258.9" cy="638.5" r="6.2" stroke-width="7.0"/><circle cx="1262.5" cy="654.4" r="6.2" stroke-width="7.0"/><circle cx="1266.0" cy="668.4" r="6.2" stroke-width="7.0"/><circle cx="1269.5" cy="679.8" r="6.2" stroke-width="7.0"/><circle cx="1273.0" cy="691.5" r="6.2" stroke-width="7.0"/><circle cx="1276.5" cy="705.7" r="6.2" stroke-width="7.0"/><circle cx="1280.0" cy="721.4" r="6.2" stroke-width="7.0"/><circle cx="1283.5" cy="738.1" r="6.2" stroke-width="7.0"/><circle cx="1287.1" cy="755.2" r="6.2" stroke-width="7.0"/><circle cx="1290.6" cy="772.2" r="6.2" stroke-width="7.0"/><circle cx="1294.1" cy="788.4" r="6.2" stroke-width="7.0"/><circle cx="1297.6" cy="804.3" r="6.2" stroke-width="7.0"/><circle cx="1301.1" cy="820.1" r="6.2" stroke-width="7.0"/><circle cx="1304.6" cy="835.8" r="6.2" stroke-width="7.0"/><circle cx="1308.1" cy="851.4" r="6.2" stroke-width="7.0"/><circle cx="1311.7" cy="866.8" r="6.2" stroke-width="7.0"/><circle cx="1315.2" cy="882.0" r="6.2" stroke-width="7.0"/><circle cx="1318.7" cy="897.0" r="6.2" stroke-width="7.0"/><circle cx="1322.2" cy="911.9" r="6.2" stroke-width="7.0"/><circle cx="1325.7" cy="927.0" r="6.2" stroke-width="7.0"/><circle cx="1329.2" cy="942.7" r="6.2" stroke-width="7.0"/><circle cx="1332.7" cy="958.8" r="6.2" stroke-width="7.0"/><circle cx="1336.3" cy="974.9" r="6.2" stroke-width="7.0"/><circle cx="1339.8" cy="990.7" r="6.2" stroke-width="7.0"/><circle cx="1343.3" cy="1006.2" r="6.2" stroke-width="7.0"/><circle cx="1346.8" cy="1021.5" r="6.2" stroke-width="7.0"/><circle cx="1350.3" cy="1036.2" r="6.2" stroke-width="7.0"/><circle cx="1353.8" cy="1049.8" r="6.2" stroke-width="7.0"/><circle cx="1357.3" cy="1062.6" r="6.2" stroke-width="7.0"/><circle cx="1360.8" cy="1074.9" r="6.2" stroke-width="7.0"/><circle cx="1364.4" cy="1087.1" r="6.2" stroke-width="7.0"/><circle cx="1367.9" cy="1099.8" r="6.2" stroke-width="7.0"/><circle cx="1371.4" cy="1112.8" r="6.2" stroke-width="7.0"/><circle cx="1374.9" cy="1125.7" r="6.2" stroke-width="7.0"/><circle cx="1378.4" cy="1138.0" r="6.2" stroke-width="7.0"/><circle cx="1381.9" cy="1149.2" r="6.2" stroke-width="7.0"/><circle cx="1385.4" cy="1160.2" r="6.2" stroke-width="7.0"/><circle cx="1389.0" cy="1170.5" r="6.2" stroke-width="7.0"/><circle cx="1392.5" cy="1179.6" r="6.2" stroke-width="7.0"/><circle cx="1396.0" cy="1187.2" r="6.2" stroke-width="7.0"/><circle cx="1399.5" cy="1193.8" r="6.2" stroke-width="7.0"/><circle cx="1403.0" cy="1199.7" r="6.2" stroke-width="7.0"/><circle cx="1406.5" cy="1205.1" r="6.2" stroke-width="7.0"/><circle cx="1410.0" cy="1210.4" r="6.2" stroke-width="7.0"/><circle cx="1413.6" cy="1215.5" r="6.2" stroke-width="7.0"/><circle cx="1417.1" cy="1220.7" r="6.2" stroke-width="7.0"/><circle cx="1420.6" cy="1225.8" r="6.2" stroke-width="7.0"/><circle cx="1424.1" cy="1230.6" r="6.2" stroke-width="7.0"/><circle cx="1427.6" cy="1235.0" r="6.2" stroke-width="7.0"/><circle cx="1431.1" cy="1238.8" r="6.2" stroke-width="7.0"/><circle cx="1434.6" cy="1242.0" r="6.2" stroke-width="7.0"/><circle cx="1438.2" cy="1244.9" r="6.2" stroke-width="7.0"/><circle cx="1441.7" cy="1247.6" r="6.2" stroke-width="7.0"/><circle cx="1445.2" cy="1250.0" r="6.2" stroke-width="7.0"/><circle cx="1448.7" cy="1252.2" r="6.2" stroke-width="7.0"/><circle cx="1452.2" cy="1254.2" r="6.2" stroke-width="7.0"/><circle cx="1455.7" cy="1255.8" r="6.2" stroke-width="7.0"/><circle cx="1459.2" cy="1257.1" r="6.2" stroke-width="7.0"/><circle cx="1462.8" cy="1258.4" r="6.2" stroke-width="7.0"/><circle cx="1466.3" cy="1259.6" r="6.2" stroke-width="7.0"/><circle cx="1469.8" cy="1260.8" r="6.2" stroke-width="7.0"/><circle cx="1473.3" cy="1261.8" r="6.2" stroke-width="7.0"/><circle cx="1476.8" cy="1262.6" r="6.2" stroke-width="7.0"/><circle cx="1480.3" cy="1263.1" r="6.2" stroke-width="7.0"/><circle cx="1483.8" cy="1263.8" r="6.2" stroke-width="7.0"/><circle cx="1487.4" cy="1264.3" r="6.2" stroke-width="7.0"/><circle cx="1490.9" cy="1265.8" r="6.2" stroke-width="7.0"/><circle cx="1494.4" cy="1265.6" r="6.2" stroke-width="7.0"/><circle cx="1497.9" cy="1265.5" r="6.2" stroke-width="7.0"/><circle cx="1501.4" cy="1264.8" r="6.2" stroke-width="7.0"/><circle cx="1504.9" cy="1264.2" r="6.2" stroke-width="7.0"/><circle cx="1508.4" cy="1266.7" r="6.2" stroke-width="7.0"/><circle cx="1512.0" cy="1266.9" r="6.2" stroke-width="7.0"/><circle cx="1515.5" cy="1266.0" r="6.2" stroke-width="7.0"/><circle cx="1519.0" cy="1266.7" r="6.2" stroke-width="7.0"/><circle cx="1522.5" cy="1267.0" r="6.2" stroke-width="7.0"/><circle cx="1526.0" cy="1267.1" r="6.2" stroke-width="7.0"/><circle cx="1529.5" cy="1267.2" r="6.2" stroke-width="7.0"/><circle cx="1533.0" cy="1265.8" r="6.2" stroke-width="7.0"/><circle cx="1536.5" cy="1267.8" r="6.2" stroke-width="7.0"/><circle cx="1540.1" cy="1265.0" r="6.2" stroke-width="7.0"/><circle cx="1543.6" cy="1267.1" r="6.2" stroke-width="7.0"/><circle cx="1547.1" cy="1266.8" r="6.2" stroke-width="7.0"/><circle cx="1550.6" cy="1267.1" r="6.2" stroke-width="7.0"/><circle cx="1554.1" cy="1268.1" r="6.2" stroke-width="7.0"/><circle cx="1557.6" cy="1267.7" r="6.2" stroke-width="7.0"/><circle cx="1561.1" cy="1265.1" r="6.2" stroke-width="7.0"/><circle cx="1564.7" cy="1264.5" r="6.2" stroke-width="7.0"/><circle cx="1568.2" cy="1267.0" r="6.2" stroke-width="7.0"/><circle cx="1571.7" cy="1265.2" r="6.2" stroke-width="7.0"/><circle cx="1575.2" cy="1266.1" r="6.2" stroke-width="7.0"/><circle cx="1578.7" cy="1267.0" r="6.2" stroke-width="7.0"/><circle cx="1582.2" cy="1264.5" r="6.2" stroke-width="7.0"/><circle cx="1585.7" cy="1264.1" r="6.2" stroke-width="7.0"/><circle cx="1589.3" cy="1266.4" r="6.2" stroke-width="7.0"/><circle cx="1592.8" cy="1266.1" r="6.2" stroke-width="7.0"/><circle cx="1596.3" cy="1265.8" r="6.2" stroke-width="7.0"/><circle cx="1599.8" cy="1266.1" r="6.2" stroke-width="7.0"/><circle cx="1603.3" cy="1265.2" r="6.2" stroke-width="7.0"/><circle cx="1606.8" cy="1264.5" r="6.2" stroke-width="7.0"/><circle cx="1610.3" cy="1265.9" r="6.2" stroke-width="7.0"/><circle cx="1613.9" cy="1265.0" r="6.2" stroke-width="7.0"/><circle cx="1617.4" cy="1264.4" r="6.2" stroke-width="7.0"/><circle cx="1620.9" cy="1266.5" r="6.2" stroke-width="7.0"/><circle cx="1624.4" cy="1265.9" r="6.2" stroke-width="7.0"/><circle cx="1627.9" cy="1266.4" r="6.2" stroke-width="7.0"/><circle cx="1631.4" cy="1265.0" r="6.2" stroke-width="7.0"/><circle cx="1634.9" cy="1265.4" r="6.2" stroke-width="7.0"/><circle cx="1638.5" cy="1265.1" r="6.2" stroke-width="7.0"/><circle cx="1642.0" cy="1265.2" r="6.2" stroke-width="7.0"/><circle cx="1645.5" cy="1266.3" r="6.2" stroke-width="7.0"/><circle cx="1649.0" cy="1265.4" r="6.2" stroke-width="7.0"/><circle cx="1652.5" cy="1266.6" r="6.2" stroke-width="7.0"/><circle cx="1656.0" cy="1266.7" r="6.2" stroke-width="7.0"/><circle cx="1659.5" cy="1268.4" r="6.2" stroke-width="7.0"/><circle cx="1663.1" cy="1265.1" r="6.2" stroke-width="7.0"/><circle cx="1666.6" cy="1267.4" r="6.2" stroke-width="7.0"/><circle cx="1670.1" cy="1266.5" r="6.2" stroke-width="7.0"/><circle cx="1673.6" cy="1266.6" r="6.2" stroke-width="7.0"/><circle cx="1677.1" cy="1265.3" r="6.2" stroke-width="7.0"/><circle cx="1680.6" cy="1266.3" r="6.2" stroke-width="7.0"/><circle cx="1684.1" cy="1267.6" r="6.2" stroke-width="7.0"/><circle cx="1687.7" cy="1266.8" r="6.2" stroke-width="7.0"/><circle cx="1691.2" cy="1267.0" r="6.2" stroke-width="7.0"/><circle cx="1694.7" cy="1266.7" r="6.2" stroke-width="7.0"/><circle cx="1698.2" cy="1268.2" r="6.2" stroke-width="7.0"/><circle cx="1701.7" cy="1267.1" r="6.2" stroke-width="7.0"/><circle cx="1705.2" cy="1265.1" r="6.2" stroke-width="7.0"/><circle cx="1708.7" cy="1266.5" r="6.2" stroke-width="7.0"/><circle cx="1712.2" cy="1265.2" r="6.2" stroke-width="7.0"/><circle cx="1715.8" cy="1265.2" r="6.2" stroke-width="7.0"/><circle cx="1719.3" cy="1266.7" r="6.2" stroke-width="7.0"/><circle cx="1722.8" cy="1268.6" r="6.2" stroke-width="7.0"/><circle cx="1726.3" cy="1267.4" r="6.2" stroke-width="7.0"/><circle cx="1729.8" cy="1266.2" r="6.2" stroke-width="7.0"/><circle cx="1733.3" cy="1266.5" r="6.2" stroke-width="7.0"/><circle cx="1736.8" cy="1268.6" r="6.2" stroke-width="7.0"/><circle cx="1740.4" cy="1267.7" r="6.2" stroke-width="7.0"/><circle cx="1743.9" cy="1267.6" r="6.2" stroke-width="7.0"/><circle cx="1747.4" cy="1267.5" r="6.2" stroke-width="7.0"/><circle cx="1750.9" cy="1267.6" r="6.2" stroke-width="7.0"/><circle cx="1754.4" cy="1268.4" r="6.2" stroke-width="7.0"/><circle cx="1757.9" cy="1268.2" r="6.2" stroke-width="7.0"/><circle cx="1761.4" cy="1267.9" r="6.2" stroke-width="7.0"/><circle cx="1765.0" cy="1266.7" r="6.2" stroke-width="7.0"/><circle cx="1768.5" cy="1268.3" r="6.2" stroke-width="7.0"/><circle cx="1772.0" cy="1267.1" r="6.2" stroke-width="7.0"/><circle cx="1775.5" cy="1268.9" r="6.2" stroke-width="7.0"/><circle cx="1779.0" cy="1266.6" r="6.2" stroke-width="7.0"/><circle cx="1782.5" cy="1267.8" r="6.2" stroke-width="7.0"/><circle cx="1786.0" cy="1267.9" r="6.2" stroke-width="7.0"/><circle cx="1789.6" cy="1266.6" r="6.2" stroke-width="7.0"/><circle cx="1793.1" cy="1269.7" r="6.2" stroke-width="7.0"/><circle cx="1796.6" cy="1269.5" r="6.2" stroke-width="7.0"/><circle cx="1800.1" cy="1267.5" r="6.2" stroke-width="7.0"/></g><polyline points="221.5,352.0 222.0,334.0 222.0,318.6 222.5,295.4 225.3,278.7 230.5,270.0 236.4,263.2 238.6,241.0 243.0,217.7 245.3,206.6 247.5,198.0 253.9,192.3 257.5,189.1 261.0,186.4 264.5,184.1 268.0,181.8 271.5,179.9 275.0,178.3 278.5,177.0 282.1,175.7 285.6,174.6 289.1,173.6 292.6,172.5 296.1,171.4 299.6,170.3 303.1,169.3 306.6,168.2 310.2,167.2 313.7,166.3 317.2,165.4 320.7,164.7 324.2,164.0 327.7,163.3 331.2,162.7 334.8,162.2 338.3,161.6 341.8,161.1 345.3,160.6 348.8,160.2 352.3,159.7 355.8,159.3 359.4,158.9 362.9,158.4 366.4,158.1 369.9,157.8 373.4,157.5 376.9,157.4 380.4,157.3 384.0,157.2 387.5,157.1 391.0,157.0 394.5,156.9 398.0,156.9 401.5,156.8 405.0,156.7 408.6,156.7 412.1,156.6 415.6,156.5 419.1,156.4 422.6,156.3 426.1,156.2 429.6,156.1 433.2,155.9 436.7,155.8 440.2,155.7 443.7,155.6 447.2,155.5 450.7,155.3 454.2,155.2 457.8,155.1 461.3,155.0 464.8,154.9 468.3,154.7 471.8,154.6 475.3,154.5 478.8,154.4 482.4,154.3 485.9,154.2 489.4,154.1 492.9,154.0 496.4,153.9 499.9,153.8 503.4,153.7 506.9,153.6 510.5,153.6 514.0,153.5 517.5,153.4 521.0,153.3 524.5,153.2 528.0,153.1 531.5,153.0 535.1,152.9 538.6,152.9 542.1,152.8 545.6,152.7 549.1,152.7 552.6,152.6 556.1,152.6 559.7,152.5 563.2,152.5 566.7,152.4 570.2,152.4 573.7,152.3 577.2,152.3 580.7,152.2 584.3,152.2 587.8,152.2 591.3,152.1 594.8,152.1 598.3,152.0 601.8,152.0 605.3,152.0 608.9,151.9 612.4,151.9 615.9,151.8 619.4,151.8 622.9,151.8 626.4,151.8 629.9,151.7 633.5,151.7 637.0,151.7 640.5,151.6 644.0,151.6 647.5,151.6 651.0,151.6 654.5,151.6 658.0,151.5 661.6,151.5 665.1,151.5 668.6,151.5 672.1,151.5 675.6,151.5 679.1,151.5 682.6,151.5 686.2,151.6 689.7,151.7 693.2,151.9 696.7,152.1 700.2,152.3 703.7,152.6 707.2,152.9 710.8,153.3 714.3,153.6 717.8,153.9 721.3,154.3 724.8,154.6 728.3,155.0 731.8,155.3 735.4,155.6 738.9,155.9 742.4,156.2 745.9,156.4 749.4,156.7 752.9,157.0 756.4,157.2 760.0,157.5 763.5,157.7 767.0,157.9 770.5,158.0 774.0,158.2 777.5,158.4 781.0,158.6 784.6,158.9 788.1,159.2 791.6,160.1 795.1,163.1 798.6,166.3 802.1,167.7 805.6,168.6 809.2,169.5 812.7,170.2 816.2,170.8 819.7,171.4 823.2,171.9 826.7,172.4 830.2,172.8 833.8,173.2 837.3,173.6 840.8,174.1 844.3,174.6 847.8,175.1 851.3,175.7 854.8,176.4 858.3,177.0 861.9,177.6 865.4,178.2 868.9,178.8 872.4,179.4 875.9,180.1 879.4,180.7 882.9,181.4 886.5,182.1 890.0,182.8 893.5,183.5 897.0,184.3 900.5,185.1 904.0,186.0 907.5,186.9 911.1,187.9 914.6,189.0 918.1,190.1 921.6,191.2 925.1,192.4 928.6,193.6 932.1,194.8 935.7,196.0 939.2,197.1 942.7,198.3 946.2,199.4 949.7,200.5 953.2,201.6 956.7,202.6 960.3,203.6 963.8,204.5 967.3,205.3 970.8,206.2 974.3,207.0 977.8,207.8 981.3,208.6 984.9,209.4 988.4,210.1 991.9,210.9 995.4,211.7 998.9,212.4 1002.4,213.2 1005.9,214.0 1009.5,214.8 1013.0,215.6 1016.5,216.4 1020.0,217.2 1023.5,217.9 1027.0,218.7 1030.5,219.5 1034.0,220.2 1037.6,221.0 1041.1,221.8 1044.6,222.7 1048.1,223.6 1051.6,224.5 1055.1,225.5 1058.6,226.5 1062.2,227.5 1065.7,228.7 1069.2,229.8 1072.7,231.1 1076.2,232.3 1079.7,233.7 1083.2,235.1 1086.8,236.5 1090.3,237.9 1093.8,239.4 1097.3,241.0 1100.8,242.6 1104.3,244.4 1107.8,246.4 1111.4,248.6 1114.9,251.1 1118.4,254.2 1121.9,257.7 1125.4,261.3 1128.9,265.0 1132.4,268.6 1136.0,272.5 1139.5,276.5 1143.0,280.7 1146.5,285.2 1150.0,290.1 1153.5,295.2 1157.0,300.5 1160.6,305.8 1164.1,311.2 1167.6,317.2 1171.1,324.6 1174.6,333.1 1178.1,342.6 1181.6,352.5 1185.1,362.6 1188.7,372.5 1192.2,382.1 1195.7,391.9 1199.2,401.9 1202.7,412.0 1206.2,422.5 1209.7,433.3 1213.3,444.7 1216.8,456.5 1220.3,468.7 1223.8,481.4 1227.3,494.6 1230.8,507.6 1234.3,520.2 1237.9,532.9 1241.4,545.8 1244.9,559.1 1248.4,572.8 1251.9,586.8 1255.4,601.2 1258.9,616.3 1262.5,632.4 1266.0,648.5 1269.5,663.2 1273.0,675.3 1276.5,686.5 1280.0,700.0 1283.5,715.3 1287.1,731.8 1290.6,748.9 1294.1,766.0 1297.6,782.5 1301.1,798.4 1304.6,814.2 1308.1,829.9 1311.7,845.5 1315.2,861.0 1318.7,876.3 1322.2,891.3 1325.7,906.2 1329.2,921.2 1332.7,936.7 1336.3,952.7 1339.8,968.9 1343.3,984.8 1346.8,1000.3 1350.3,1015.8 1353.8,1030.6 1357.3,1044.6 1360.8,1057.6 1364.4,1070.0 1367.9,1082.2 1371.4,1094.7 1374.9,1107.6 1378.4,1120.6 1381.9,1133.1 1385.4,1144.6 1389.0,1155.7 1392.5,1166.2 1396.0,1175.7 1399.5,1183.7 1403.0,1190.5 1406.5,1196.6 1410.0,1202.2 1413.6,1207.4 1417.1,1212.6 1420.6,1217.8 1424.1,1222.9 1427.6,1227.8 1431.1,1232.3 1434.6,1236.3 1438.2,1239.6 1441.7,1242.6 1445.2,1245.3 1448.7,1247.9 1452.2,1250.1 1455.7,1252.1 1459.2,1253.8 1462.8,1255.3 1466.3,1256.6 1469.8,1257.8 1473.3,1259.0 1476.8,1260.0 1480.3,1261.5 1483.8,1262.0 1487.4,1260.7 1490.9,1262.9 1494.4,1263.0 1497.9,1263.4 1501.4,1262.7 1504.9,1263.6 1508.4,1263.9 1512.0,1265.2 1515.5,1264.7 1519.0,1264.6 1522.5,1265.9 1526.0,1264.3 1529.5,1264.5 1533.0,1263.3 1536.5,1266.1 1540.1,1265.6 1543.6,1265.5 1547.1,1265.3 1550.6,1264.9 1554.1,1264.9 1557.6,1264.5 1561.1,1264.6 1564.7,1264.8 1568.2,1265.9 1571.7,1265.1 1575.2,1264.6 1578.7,1264.2 1582.2,1264.1 1585.7,1265.9 1589.3,1265.0 1592.8,1264.7 1596.3,1264.3 1599.8,1263.7 1603.3,1264.5 1606.8,1265.2 1610.3,1264.2 1613.9,1264.3 1617.4,1264.3 1620.9,1264.6 1624.4,1263.2 1627.9,1264.3 1631.4,1263.8 1634.9,1265.2 1638.5,1263.9 1642.0,1265.0 1645.5,1265.8 1649.0,1264.4 1652.5,1264.2 1656.0,1264.9 1659.5,1264.8 1663.1,1264.1 1666.6,1265.3 1670.1,1266.6 1673.6,1264.9 1677.1,1265.0 1680.6,1264.4 1684.1,1265.5 1687.7,1264.3 1691.2,1264.5 1694.7,1266.5 1698.2,1264.8 1701.7,1266.4 1705.2,1266.8 1708.7,1265.8 1712.2,1266.1 1715.8,1267.2 1719.3,1265.6 1722.8,1265.3 1726.3,1264.7 1729.8,1265.9 1733.3,1267.1 1736.8,1266.7 1740.4,1265.2 1743.9,1265.3 1747.4,1265.6 1750.9,1266.3 1754.4,1265.9 1757.9,1266.3 1761.4,1266.4 1765.0,1266.0 1768.5,1266.2 1772.0,1266.4 1775.5,1266.2 1779.0,1266.7 1782.5,1267.9 1786.0,1266.9 1789.6,1266.5 1793.1,1265.1 1796.6,1266.8" fill="none" stroke="#d42aff" stroke-width="3.5" stroke-linejoin="round"/><g fill="#fff" stroke="#d42aff"><circle cx="221.5" cy="352.0" r="4.7" stroke-width="6.2"/><circle cx="222.0" cy="334.0" r="4.7" stroke-width="6.2"/><circle cx="222.0" cy="318.6" r="4.7" stroke-width="6.2"/><circle cx="222.5" cy="295.4" r="4.7" stroke-width="6.2"/><circle cx="225.3" cy="278.7" r="4.7" stroke-width="6.2"/><circle cx="230.5" cy="270.0" r="4.7" stroke-width="6.2"/><circle cx="236.4" cy="263.2" r="4.7" stroke-width="6.2"/><circle cx="238.6" cy="241.0" r="4.7" stroke-width="6.2"/><circle cx="243.0" cy="217.7" r="4.7" stroke-width="6.2"/><circle cx="245.3" cy="206.6" r="4.7" stroke-width="6.2"/><circle cx="247.5" cy="198.0" r="4.7" stroke-width="6.2"/><circle cx="253.9" cy="192.3" r="4.7" stroke-width="6.2"/><circle cx="257.5" cy="189.1" r="4.7" stroke-width="6.2"/><circle cx="261.0" cy="186.4" r="4.7" stroke-width="6.2"/><circle cx="264.5" cy="184.1" r="4.7" stroke-width="6.2"/><circle cx="268.0" cy="181.8" r="4.7" stroke-width="6.2"/><circle cx="271.5" cy="179.9" r="4.7" stroke-width="6.2"/><circle cx="275.0" cy="178.3" r="4.7" stroke-width="6.2"/><circle cx="278.5" cy="177.0" r="4.7" stroke-width="6.2"/><circle cx="282.1" cy="175.7" r="4.7" stroke-width="6.2"/><circle cx="285.6" cy="174.6" r="4.7" stroke-width="6.2"/><circle cx="289.1" cy="173.6" r="4.7" stroke-width="6.2"/><circle cx="292.6" cy="172.5" r="4.7" stroke-width="6.2"/><circle cx="296.1" cy="171.4" r="4.7" stroke-width="6.2"/><circle cx="299.6" cy="170.3" r="4.7" stroke-width="6.2"/><circle cx="303.1" cy="169.3" r="4.7" stroke-width="6.2"/><circle cx="306.6" cy="168.2" r="4.7" stroke-width="6.2"/><circle cx="310.2" cy="167.2" r="4.7" stroke-width="6.2"/><circle cx="313.7" cy="166.3" r="4.7" stroke-width="6.2"/><circle cx="317.2" cy="165.4" r="4.7" stroke-width="6.2"/><circle cx="320.7" cy="164.7" r="4.7" stroke-width="6.2"/><circle cx="324.2" cy="164.0" r="4.7" stroke-width="6.2"/><circle cx="327.7" cy="163.3" r="4.7" stroke-width="6.2"/><circle cx="331.2" cy="162.7" r="4.7" stroke-width="6.2"/><circle cx="334.8" cy="162.2" r="4.7" stroke-width="6.2"/><circle cx="338.3" cy="161.6" r="4.7" stroke-width="6.2"/><circle cx="341.8" cy="161.1" r="4.7" stroke-width="6.2"/><circle cx="345.3" cy="160.6" r="4.7" stroke-width="6.2"/><circle cx="348.8" cy="160.2" r="4.7" stroke-width="6.2"/><circle cx="352.3" cy="159.7" r="4.7" stroke-width="6.2"/><circle cx="355.8" cy="159.3" r="4.7" stroke-width="6.2"/><circle cx="359.4" cy="158.9" r="4.7" stroke-width="6.2"/><circle cx="362.9" cy="158.4" r="4.7" stroke-width="6.2"/><circle cx="366.4" cy="158.1" r="4.7" stroke-width="6.2"/><circle cx="369.9" cy="157.8" r="4.7" stroke-width="6.2"/><circle cx="373.4" cy="157.5" r="4.7" stroke-width="6.2"/><circle cx="376.9" cy="157.4" r="4.7" stroke-width="6.2"/><circle cx="380.4" cy="157.3" r="4.7" stroke-width="6.2"/><circle cx="384.0" cy="157.2" r="4.7" stroke-width="6.2"/><circle cx="387.5" cy="157.1" r="4.7" stroke-width="6.2"/><circle cx="391.0" cy="157.0" r="4.7" stroke-width="6.2"/><circle cx="394.5" cy="156.9" r="4.7" stroke-width="6.2"/><circle cx="398.0" cy="156.9" r="4.7" stroke-width="6.2"/><circle cx="401.5" cy="156.8" r="4.7" stroke-width="6.2"/><circle cx="405.0" cy="156.7" r="4.7" stroke-width="6.2"/><circle cx="408.6" cy="156.7" r="4.7" stroke-width="6.2"/><circle cx="412.1" cy="156.6" r="4.7" stroke-width="6.2"/><circle cx="415.6" cy="156.5" r="4.7" stroke-width="6.2"/><circle cx="419.1" cy="156.4" r="4.7" stroke-width="6.2"/><circle cx="422.6" cy="156.3" r="4.7" stroke-width="6.2"/><circle cx="426.1" cy="156.2" r="4.7" stroke-width="6.2"/><circle cx="429.6" cy="156.1" r="4.7" stroke-width="6.2"/><circle cx="433.2" cy="155.9" r="4.7" stroke-width="6.2"/><circle cx="436.7" cy="155.8" r="4.7" stroke-width="6.2"/><circle cx="440.2" cy="155.7" r="4.7" stroke-width="6.2"/><circle cx="443.7" cy="155.6" r="4.7" stroke-width="6.2"/><circle cx="447.2" cy="155.5" r="4.7" stroke-width="6.2"/><circle cx="450.7" cy="155.3" r="4.7" stroke-width="6.2"/><circle cx="454.2" cy="155.2" r="4.7" stroke-width="6.2"/><circle cx="457.8" cy="155.1" r="4.7" stroke-width="6.2"/><circle cx="461.3" cy="155.0" r="4.7" stroke-width="6.2"/><circle cx="464.8" cy="154.9" r="4.7" stroke-width="6.2"/><circle cx="468.3" cy="154.7" r="4.7" stroke-width="6.2"/><circle cx="471.8" cy="154.6" r="4.7" stroke-width="6.2"/><circle cx="475.3" cy="154.5" r="4.7" stroke-width="6.2"/><circle cx="478.8" cy="154.4" r="4.7" stroke-width="6.2"/><circle cx="482.4" cy="154.3" r="4.7" stroke-width="6.2"/><circle cx="485.9" cy="154.2" r="4.7" stroke-width="6.2"/><circle cx="489.4" cy="154.1" r="4.7" stroke-width="6.2"/><circle cx="492.9" cy="154.0" r="4.7" stroke-width="6.2"/><circle cx="496.4" cy="153.9" r="4.7" stroke-width="6.2"/><circle cx="499.9" cy="153.8" r="4.7" stroke-width="6.2"/><circle cx="503.4" cy="153.7" r="4.7" stroke-width="6.2"/><circle cx="506.9" cy="153.6" r="4.7" stroke-width="6.2"/><circle cx="510.5" cy="153.6" r="4.7" stroke-width="6.2"/><circle cx="514.0" cy="153.5" r="4.7" stroke-width="6.2"/><circle cx="517.5" cy="153.4" r="4.7" stroke-width="6.2"/><circle cx="521.0" cy="153.3" r="4.7" stroke-width="6.2"/><circle cx="524.5" cy="153.2" r="4.7" stroke-width="6.2"/><circle cx="528.0" cy="153.1" r="4.7" stroke-width="6.2"/><circle cx="531.5" cy="153.0" r="4.7" stroke-width="6.2"/><circle cx="535.1" cy="152.9" r="4.7" stroke-width="6.2"/><circle cx="538.6" cy="152.9" r="4.7" stroke-width="6.2"/><circle cx="542.1" cy="152.8" r="4.7" stroke-width="6.2"/><circle cx="545.6" cy="152.7" r="4.7" stroke-width="6.2"/><circle cx="549.1" cy="152.7" r="4.7" stroke-width="6.2"/><circle cx="552.6" cy="152.6" r="4.7" stroke-width="6.2"/><circle cx="556.1" cy="152.6" r="4.7" stroke-width="6.2"/><circle cx="559.7" cy="152.5" r="4.7" stroke-width="6.2"/><circle cx="563.2" cy="152.5" r="4.7" stroke-width="6.2"/><circle cx="566.7" cy="152.4" r="4.7" stroke-width="6.2"/><circle cx="570.2" cy="152.4" r="4.7" stroke-width="6.2"/><circle cx="573.7" cy="152.3" r="4.7" stroke-width="6.2"/><circle cx="577.2" cy="152.3" r="4.7" stroke-width="6.2"/><circle cx="580.7" cy="152.2" r="4.7" stroke-width="6.2"/><circle cx="584.3" cy="152.2" r="4.7" stroke-width="6.2"/><circle cx="587.8" cy="152.2" r="4.7" stroke-width="6.2"/><circle cx="591.3" cy="152.1" r="4.7" stroke-width="6.2"/><circle cx="594.8" cy="152.1" r="4.7" stroke-width="6.2"/><circle cx="598.3" cy="152.0" r="4.7" stroke-width="6.2"/><circle cx="601.8" cy="152.0" r="4.7" stroke-width="6.2"/><circle cx="605.3" cy="152.0" r="4.7" stroke-width="6.2"/><circle cx="608.9" cy="151.9" r="4.7" stroke-width="6.2"/><circle cx="612.4" cy="151.9" r="4.7" stroke-width="6.2"/><circle cx="615.9" cy="151.8" r="4.7" stroke-width="6.2"/><circle cx="619.4" cy="151.8" r="4.7" stroke-width="6.2"/><circle cx="622.9" cy="151.8" r="4.7" stroke-width="6.2"/><circle cx="626.4" cy="151.8" r="4.7" stroke-width="6.2"/><circle cx="629.9" cy="151.7" r="4.7" stroke-width="6.2"/><circle cx="633.5" cy="151.7" r="4.7" stroke-width="6.2"/><circle cx="637.0" cy="151.7" r="4.7" stroke-width="6.2"/><circle cx="640.5" cy="151.6" r="4.7" stroke-width="6.2"/><circle cx="644.0" cy="151.6" r="4.7" stroke-width="6.2"/><circle cx="647.5" cy="151.6" r="4.7" stroke-width="6.2"/><circle cx="651.0" cy="151.6" r="4.7" stroke-width="6.2"/><circle cx="654.5" cy="151.6" r="4.7" stroke-width="6.2"/><circle cx="658.0" cy="151.5" r="4.7" stroke-width="6.2"/><circle cx="661.6" cy="151.5" r="4.7" stroke-width="6.2"/><circle cx="665.1" cy="151.5" r="4.7" stroke-width="6.2"/><circle cx="668.6" cy="151.5" r="4.7" stroke-width="6.2"/><circle cx="672.1" cy="151.5" r="4.7" stroke-width="6.2"/><circle cx="675.6" cy="151.5" r="4.7" stroke-width="6.2"/><circle cx="679.1" cy="151.5" r="4.7" stroke-width="6.2"/><circle cx="682.6" cy="151.5" r="4.7" stroke-width="6.2"/><circle cx="686.2" cy="151.6" r="4.7" stroke-width="6.2"/><circle cx="689.7" cy="151.7" r="4.7" stroke-width="6.2"/><circle cx="693.2" cy="151.9" r="4.7" stroke-width="6.2"/><circle cx="696.7" cy="152.1" r="4.7" stroke-width="6.2"/><circle cx="700.2" cy="152.3" r="4.7" stroke-width="6.2"/><circle cx="703.7" cy="152.6" r="4.7" stroke-width="6.2"/><circle cx="707.2" cy="152.9" r="4.7" stroke-width="6.2"/><circle cx="710.8" cy="153.3" r="4.7" stroke-width="6.2"/><circle cx="714.3" cy="153.6" r="4.7" stroke-width="6.2"/><circle cx="717.8" cy="153.9" r="4.7" stroke-width="6.2"/><circle cx="721.3" cy="154.3" r="4.7" stroke-width="6.2"/><circle cx="724.8" cy="154.6" r="4.7" stroke-width="6.2"/><circle cx="728.3" cy="155.0" r="4.7" stroke-width="6.2"/><circle cx="731.8" cy="155.3" r="4.7" stroke-width="6.2"/><circle cx="735.4" cy="155.6" r="4.7" stroke-width="6.2"/><circle cx="738.9" cy="155.9" r="4.7" stroke-width="6.2"/><circle cx="742.4" cy="156.2" r="4.7" stroke-width="6.2"/><circle cx="745.9" cy="156.4" r="4.7" stroke-width="6.2"/><circle cx="749.4" cy="156.7" r="4.7" stroke-width="6.2"/><circle cx="752.9" cy="157.0" r="4.7" stroke-width="6.2"/><circle cx="756.4" cy="157.2" r="4.7" stroke-width="6.2"/><circle cx="760.0" cy="157.5" r="4.7" stroke-width="6.2"/><circle cx="763.5" cy="157.7" r="4.7" stroke-width="6.2"/><circle cx="767.0" cy="157.9" r="4.7" stroke-width="6.2"/><circle cx="770.5" cy="158.0" r="4.7" stroke-width="6.2"/><circle cx="774.0" cy="158.2" r="4.7" stroke-width="6.2"/><circle cx="777.5" cy="158.4" r="4.7" stroke-width="6.2"/><circle cx="781.0" cy="158.6" r="4.7" stroke-width="6.2"/><circle cx="784.6" cy="158.9" r="4.7" stroke-width="6.2"/><circle cx="788.1" cy="159.2" r="4.7" stroke-width="6.2"/><circle cx="791.6" cy="160.1" r="4.7" stroke-width="6.2"/><circle cx="795.1" cy="163.1" r="4.7" stroke-width="6.2"/><circle cx="798.6" cy="166.3" r="4.7" stroke-width="6.2"/><circle cx="802.1" cy="167.7" r="6.2" stroke-width="7.0"/><circle cx="805.6" cy="168.6" r="6.2" stroke-width="7.0"/><circle cx="809.2" cy="169.5" r="6.2" stroke-width="7.0"/><circle cx="812.7" cy="170.2" r="6.2" stroke-width="7.0"/><circle cx="816.2" cy="170.8" r="6.2" stroke-width="7.0"/><circle cx="819.7" cy="171.4" r="6.2" stroke-width="7.0"/><circle cx="823.2" cy="171.9" r="6.2" stroke-width="7.0"/><circle cx="826.7" cy="172.4" r="6.2" stroke-width="7.0"/><circle cx="830.2" cy="172.8" r="6.2" stroke-width="7.0"/><circle cx="833.8" cy="173.2" r="6.2" stroke-width="7.0"/><circle cx="837.3" cy="173.6" r="6.2" stroke-width="7.0"/><circle cx="840.8" cy="174.1" r="6.2" stroke-width="7.0"/><circle cx="844.3" cy="174.6" r="6.2" stroke-width="7.0"/><circle cx="847.8" cy="175.1" r="6.2" stroke-width="7.0"/><circle cx="851.3" cy="175.7" r="6.2" stroke-width="7.0"/><circle cx="854.8" cy="176.4" r="6.2" stroke-width="7.0"/><circle cx="858.3" cy="177.0" r="6.2" stroke-width="7.0"/><circle cx="861.9" cy="177.6" r="6.2" stroke-width="7.0"/><circle cx="865.4" cy="178.2" r="6.2" stroke-width="7.0"/><circle cx="868.9" cy="178.8" r="6.2" stroke-width="7.0"/><circle cx="872.4" cy="179.4" r="6.2" stroke-width="7.0"/><circle cx="875.9" cy="180.1" r="6.2" stroke-width="7.0"/><circle cx="879.4" cy="180.7" r="6.2" stroke-width="7.0"/><circle cx="882.9" cy="181.4" r="6.2" stroke-width="7.0"/><circle cx="886.5" cy="182.1" r="6.2" stroke-width="7.0"/><circle cx="890.0" cy="182.8" r="6.2" stroke-width="7.0"/><circle cx="893.5" cy="183.5" r="6.2" stroke-width="7.0"/><circle cx="897.0" cy="184.3" r="6.2" stroke-width="7.0"/><circle cx="900.5" cy="185.1" r="6.2" stroke-width="7.0"/><circle cx="904.0" cy="186.0" r="6.2" stroke-width="7.0"/><circle cx="907.5" cy="186.9" r="6.2" stroke-width="7.0"/><circle cx="911.1" cy="187.9" r="6.2" stroke-width="7.0"/><circle cx="914.6" cy="189.0" r="6.2" stroke-width="7.0"/><circle cx="918.1" cy="190.1" r="6.2" stroke-width="7.0"/><circle cx="921.6" cy="191.2" r="6.2" stroke-width="7.0"/><circle cx="925.1" cy="192.4" r="6.2" stroke-width="7.0"/><circle cx="928.6" cy="193.6" r="6.2" stroke-width="7.0"/><circle cx="932.1" cy="194.8" r="6.2" stroke-width="7.0"/><circle cx="935.7" cy="196.0" r="6.2" stroke-width="7.0"/><circle cx="939.2" cy="197.1" r="6.2" stroke-width="7.0"/><circle cx="942.7" cy="198.3" r="6.2" stroke-width="7.0"/><circle cx="946.2" cy="199.4" r="6.2" stroke-width="7.0"/><circle cx="949.7" cy="200.5" r="6.2" stroke-width="7.0"/><circle cx="953.2" cy="201.6" r="6.2" stroke-width="7.0"/><circle cx="956.7" cy="202.6" r="6.2" stroke-width="7.0"/><circle cx="960.3" cy="203.6" r="6.2" stroke-width="7.0"/><circle cx="963.8" cy="204.5" r="6.2" stroke-width="7.0"/><circle cx="967.3" cy="205.3" r="6.2" stroke-width="7.0"/><circle cx="970.8" cy="206.2" r="6.2" stroke-width="7.0"/><circle cx="974.3" cy="207.0" r="6.2" stroke-width="7.0"/><circle cx="977.8" cy="207.8" r="6.2" stroke-width="7.0"/><circle cx="981.3" cy="208.6" r="6.2" stroke-width="7.0"/><circle cx="984.9" cy="209.4" r="6.2" stroke-width="7.0"/><circle cx="988.4" cy="210.1" r="6.2" stroke-width="7.0"/><circle cx="991.9" cy="210.9" r="6.2" stroke-width="7.0"/><circle cx="995.4" cy="211.7" r="6.2" stroke-width="7.0"/><circle cx="998.9" cy="212.4" r="6.2" stroke-width="7.0"/><circle cx="1002.4" cy="213.2" r="6.2" stroke-width="7.0"/><circle cx="1005.9" cy="214.0" r="6.2" stroke-width="7.0"/><circle cx="1009.5" cy="214.8" r="6.2" stroke-width="7.0"/><circle cx="1013.0" cy="215.6" r="6.2" stroke-width="7.0"/><circle cx="1016.5" cy="216.4" r="6.2" stroke-width="7.0"/><circle cx="1020.0" cy="217.2" r="6.2" stroke-width="7.0"/><circle cx="1023.5" cy="217.9" r="6.2" stroke-width="7.0"/><circle cx="1027.0" cy="218.7" r="6.2" stroke-width="7.0"/><circle cx="1030.5" cy="219.5" r="6.2" stroke-width="7.0"/><circle cx="1034.0" cy="220.2" r="6.2" stroke-width="7.0"/><circle cx="1037.6" cy="221.0" r="6.2" stroke-width="7.0"/><circle cx="1041.1" cy="221.8" r="6.2" stroke-width="7.0"/><circle cx="1044.6" cy="222.7" r="6.2" stroke-width="7.0"/><circle cx="1048.1" cy="223.6" r="6.2" stroke-width="7.0"/><circle cx="1051.6" cy="224.5" r="6.2" stroke-width="7.0"/><circle cx="1055.1" cy="225.5" r="6.2" stroke-width="7.0"/><circle cx="1058.6" cy="226.5" r="6.2" stroke-width="7.0"/><circle cx="1062.2" cy="227.5" r="6.2" stroke-width="7.0"/><circle cx="1065.7" cy="228.7" r="6.2" stroke-width="7.0"/><circle cx="1069.2" cy="229.8" r="6.2" stroke-width="7.0"/><circle cx="1072.7" cy="231.1" r="6.2" stroke-width="7.0"/><circle cx="1076.2" cy="232.3" r="6.2" stroke-width="7.0"/><circle cx="1079.7" cy="233.7" r="6.2" stroke-width="7.0"/><circle cx="1083.2" cy="235.1" r="6.2" stroke-width="7.0"/><circle cx="1086.8" cy="236.5" r="6.2" stroke-width="7.0"/><circle cx="1090.3" cy="237.9" r="6.2" stroke-width="7.0"/><circle cx="1093.8" cy="239.4" r="6.2" stroke-width="7.0"/><circle cx="1097.3" cy="241.0" r="6.2" stroke-width="7.0"/><circle cx="1100.8" cy="242.6" r="6.2" stroke-width="7.0"/><circle cx="1104.3" cy="244.4" r="6.2" stroke-width="7.0"/><circle cx="1107.8" cy="246.4" r="6.2" stroke-width="7.0"/><circle cx="1111.4" cy="248.6" r="6.2" stroke-width="7.0"/><circle cx="1114.9" cy="251.1" r="6.2" stroke-width="7.0"/><circle cx="1118.4" cy="254.2" r="6.2" stroke-width="7.0"/><circle cx="1121.9" cy="257.7" r="6.2" stroke-width="7.0"/><circle cx="1125.4" cy="261.3" r="6.2" stroke-width="7.0"/><circle cx="1128.9" cy="265.0" r="6.2" stroke-width="7.0"/><circle cx="1132.4" cy="268.6" r="6.2" stroke-width="7.0"/><circle cx="1136.0" cy="272.5" r="6.2" stroke-width="7.0"/><circle cx="1139.5" cy="276.5" r="6.2" stroke-width="7.0"/><circle cx="1143.0" cy="280.7" r="6.2" stroke-width="7.0"/><circle cx="1146.5" cy="285.2" r="6.2" stroke-width="7.0"/><circle cx="1150.0" cy="290.1" r="6.2" stroke-width="7.0"/><circle cx="1153.5" cy="295.2" r="6.2" stroke-width="7.0"/><circle cx="1157.0" cy="300.5" r="6.2" stroke-width="7.0"/><circle cx="1160.6" cy="305.8" r="6.2" stroke-width="7.0"/><circle cx="1164.1" cy="311.2" r="6.2" stroke-width="7.0"/><circle cx="1167.6" cy="317.2" r="6.2" stroke-width="7.0"/><circle cx="1171.1" cy="324.6" r="6.2" stroke-width="7.0"/><circle cx="1174.6" cy="333.1" r="6.2" stroke-width="7.0"/><circle cx="1178.1" cy="342.6" r="6.2" stroke-width="7.0"/><circle cx="1181.6" cy="352.5" r="6.2" stroke-width="7.0"/><circle cx="1185.1" cy="362.6" r="6.2" stroke-width="7.0"/><circle cx="1188.7" cy="372.5" r="6.2" stroke-width="7.0"/><circle cx="1192.2" cy="382.1" r="6.2" stroke-width="7.0"/><circle cx="1195.7" cy="391.9" r="6.2" stroke-width="7.0"/><circle cx="1199.2" cy="401.9" r="6.2" stroke-width="7.0"/><circle cx="1202.7" cy="412.0" r="6.2" stroke-width="7.0"/><circle cx="1206.2" cy="422.5" r="6.2" stroke-width="7.0"/><circle cx="1209.7" cy="433.3" r="6.2" stroke-width="7.0"/><circle cx="1213.3" cy="444.7" r="6.2" stroke-width="7.0"/><circle cx="1216.8" cy="456.5" r="6.2" stroke-width="7.0"/><circle cx="1220.3" cy="468.7" r="6.2" stroke-width="7.0"/><circle cx="1223.8" cy="481.4" r="6.2" stroke-width="7.0"/><circle cx="1227.3" cy="494.6" r="6.2" stroke-width="7.0"/><circle cx="1230.8" cy="507.6" r="6.2" stroke-width="7.0"/><circle cx="1234.3" cy="520.2" r="6.2" stroke-width="7.0"/><circle cx="1237.9" cy="532.9" r="6.2" stroke-width="7.0"/><circle cx="1241.4" cy="545.8" r="6.2" stroke-width="7.0"/><circle cx="1244.9" cy="559.1" r="6.2" stroke-width="7.0"/><circle cx="1248.4" cy="572.8" r="6.2" stroke-width="7.0"/><circle cx="1251.9" cy="586.8" r="6.2" stroke-width="7.0"/><circle cx="1255.4" cy="601.2" r="6.2" stroke-width="7.0"/><circle cx="1258.9" cy="616.3" r="6.2" stroke-width="7.0"/><circle cx="1262.5" cy="632.4" r="6.2" stroke-width="7.0"/><circle cx="1266.0" cy="648.5" r="6.2" stroke-width="7.0"/><circle cx="1269.5" cy="663.2" r="6.2" stroke-width="7.0"/><circle cx="1273.0" cy="675.3" r="6.2" stroke-width="7.0"/><circle cx="1276.5" cy="686.5" r="6.2" stroke-width="7.0"/><circle cx="1280.0" cy="700.0" r="6.2" stroke-width="7.0"/><circle cx="1283.5" cy="715.3" r="6.2" stroke-width="7.0"/><circle cx="1287.1" cy="731.8" r="6.2" stroke-width="7.0"/><circle cx="1290.6" cy="748.9" r="6.2" stroke-width="7.0"/><circle cx="1294.1" cy="766.0" r="6.2" stroke-width="7.0"/><circle cx="1297.6" cy="782.5" r="6.2" stroke-width="7.0"/><circle cx="1301.1" cy="798.4" r="6.2" stroke-width="7.0"/><circle cx="1304.6" cy="814.2" r="6.2" stroke-width="7.0"/><circle cx="1308.1" cy="829.9" r="6.2" stroke-width="7.0"/><circle cx="1311.7" cy="845.5" r="6.2" stroke-width="7.0"/><circle cx="1315.2" cy="861.0" r="6.2" stroke-width="7.0"/><circle cx="1318.7" cy="876.3" r="6.2" stroke-width="7.0"/><circle cx="1322.2" cy="891.3" r="6.2" stroke-width="7.0"/><circle cx="1325.7" cy="906.2" r="6.2" stroke-width="7.0"/><circle cx="1329.2" cy="921.2" r="6.2" stroke-width="7.0"/><circle cx="1332.7" cy="936.7" r="6.2" stroke-width="7.0"/><circle cx="1336.3" cy="952.7" r="6.2" stroke-width="7.0"/><circle cx="1339.8" cy="968.9" r="6.2" stroke-width="7.0"/><circle cx="1343.3" cy="984.8" r="6.2" stroke-width="7.0"/><circle cx="1346.8" cy="1000.3" r="6.2" stroke-width="7.0"/><circle cx="1350.3" cy="1015.8" r="6.2" stroke-width="7.0"/><circle cx="1353.8" cy="1030.6" r="6.2" stroke-width="7.0"/><circle cx="1357.3" cy="1044.6" r="6.2" stroke-width="7.0"/><circle cx="1360.8" cy="1057.6" r="6.2" stroke-width="7.0"/><circle cx="1364.4" cy="1070.0" r="6.2" stroke-width="7.0"/><circle cx="1367.9" cy="1082.2" r="6.2" stroke-width="7.0"/><circle cx="1371.4" cy="1094.7" r="6.2" stroke-width="7.0"/><circle cx="1374.9" cy="1107.6" r="6.2" stroke-width="7.0"/><circle cx="1378.4" cy="1120.6" r="6.2" stroke-width="7.0"/><circle cx="1381.9" cy="1133.1" r="6.2" stroke-width="7.0"/><circle cx="1385.4" cy="1144.6" r="6.2" stroke-width="7.0"/><circle cx="1389.0" cy="1155.7" r="6.2" stroke-width="7.0"/><circle cx="1392.5" cy="1166.2" r="6.2" stroke-width="7.0"/><circle cx="1396.0" cy="1175.7" r="6.2" stroke-width="7.0"/><circle cx="1399.5" cy="1183.7" r="6.2" stroke-width="7.0"/><circle cx="1403.0" cy="1190.5" r="6.2" stroke-width="7.0"/><circle cx="1406.5" cy="1196.6" r="6.2" stroke-width="7.0"/><circle cx="1410.0" cy="1202.2" r="6.2" stroke-width="7.0"/><circle cx="1413.6" cy="1207.4" r="6.2" stroke-width="7.0"/><circle cx="1417.1" cy="1212.6" r="6.2" stroke-width="7.0"/><circle cx="1420.6" cy="1217.8" r="6.2" stroke-width="7.0"/><circle cx="1424.1" cy="1222.9" r="6.2" stroke-width="7.0"/><circle cx="1427.6" cy="1227.8" r="6.2" stroke-width="7.0"/><circle cx="1431.1" cy="1232.3" r="6.2" stroke-width="7.0"/><circle cx="1434.6" cy="1236.3" r="6.2" stroke-width="7.0"/><circle cx="1438.2" cy="1239.6" r="6.2" stroke-width="7.0"/><circle cx="1441.7" cy="1242.6" r="6.2" stroke-width="7.0"/><circle cx="1445.2" cy="1245.3" r="6.2" stroke-width="7.0"/><circle cx="1448.7" cy="1247.9" r="6.2" stroke-width="7.0"/><circle cx="1452.2" cy="1250.1" r="6.2" stroke-width="7.0"/><circle cx="1455.7" cy="1252.1" r="6.2" stroke-width="7.0"/><circle cx="1459.2" cy="1253.8" r="6.2" stroke-width="7.0"/><circle cx="1462.8" cy="1255.3" r="6.2" stroke-width="7.0"/><circle cx="1466.3" cy="1256.6" r="6.2" stroke-width="7.0"/><circle cx="1469.8" cy="1257.8" r="6.2" stroke-width="7.0"/><circle cx="1473.3" cy="1259.0" r="6.2" stroke-width="7.0"/><circle cx="1476.8" cy="1260.0" r="6.2" stroke-width="7.0"/><circle cx="1480.3" cy="1261.5" r="6.2" stroke-width="7.0"/><circle cx="1483.8" cy="1262.0" r="6.2" stroke-width="7.0"/><circle cx="1487.4" cy="1260.7" r="6.2" stroke-width="7.0"/><circle cx="1490.9" cy="1262.9" r="6.2" stroke-width="7.0"/><circle cx="1494.4" cy="1263.0" r="6.2" stroke-width="7.0"/><circle cx="1497.9" cy="1263.4" r="6.2" stroke-width="7.0"/><circle cx="1501.4" cy="1262.7" r="6.2" stroke-width="7.0"/><circle cx="1504.9" cy="1263.6" r="6.2" stroke-width="7.0"/><circle cx="1508.4" cy="1263.9" r="6.2" stroke-width="7.0"/><circle cx="1512.0" cy="1265.2" r="6.2" stroke-width="7.0"/><circle cx="1515.5" cy="1264.7" r="6.2" stroke-width="7.0"/><circle cx="1519.0" cy="1264.6" r="6.2" stroke-width="7.0"/><circle cx="1522.5" cy="1265.9" r="6.2" stroke-width="7.0"/><circle cx="1526.0" cy="1264.3" r="6.2" stroke-width="7.0"/><circle cx="1529.5" cy="1264.5" r="6.2" stroke-width="7.0"/><circle cx="1533.0" cy="1263.3" r="6.2" stroke-width="7.0"/><circle cx="1536.5" cy="1266.1" r="6.2" stroke-width="7.0"/><circle cx="1540.1" cy="1265.6" r="6.2" stroke-width="7.0"/><circle cx="1543.6" cy="1265.5" r="6.2" stroke-width="7.0"/><circle cx="1547.1" cy="1265.3" r="6.2" stroke-width="7.0"/><circle cx="1550.6" cy="1264.9" r="6.2" stroke-width="7.0"/><circle cx="1554.1" cy="1264.9" r="6.2" stroke-width="7.0"/><circle cx="1557.6" cy="1264.5" r="6.2" stroke-width="7.0"/><circle cx="1561.1" cy="1264.6" r="6.2" stroke-width="7.0"/><circle cx="1564.7" cy="1264.8" r="6.2" stroke-width="7.0"/><circle cx="1568.2" cy="1265.9" r="6.2" stroke-width="7.0"/><circle cx="1571.7" cy="1265.1" r="6.2" stroke-width="7.0"/><circle cx="1575.2" cy="1264.6" r="6.2" stroke-width="7.0"/><circle cx="1578.7" cy="1264.2" r="6.2" stroke-width="7.0"/><circle cx="1582.2" cy="1264.1" r="6.2" stroke-width="7.0"/><circle cx="1585.7" cy="1265.9" r="6.2" stroke-width="7.0"/><circle cx="1589.3" cy="1265.0" r="6.2" stroke-width="7.0"/><circle cx="1592.8" cy="1264.7" r="6.2" stroke-width="7.0"/><circle cx="1596.3" cy="1264.3" r="6.2" stroke-width="7.0"/><circle cx="1599.8" cy="1263.7" r="6.2" stroke-width="7.0"/><circle cx="1603.3" cy="1264.5" r="6.2" stroke-width="7.0"/><circle cx="1606.8" cy="1265.2" r="6.2" stroke-width="7.0"/><circle cx="1610.3" cy="1264.2" r="6.2" stroke-width="7.0"/><circle cx="1613.9" cy="1264.3" r="6.2" stroke-width="7.0"/><circle cx="1617.4" cy="1264.3" r="6.2" stroke-width="7.0"/><circle cx="1620.9" cy="1264.6" r="6.2" stroke-width="7.0"/><circle cx="1624.4" cy="1263.2" r="6.2" stroke-width="7.0"/><circle cx="1627.9" cy="1264.3" r="6.2" stroke-width="7.0"/><circle cx="1631.4" cy="1263.8" r="6.2" stroke-width="7.0"/><circle cx="1634.9" cy="1265.2" r="6.2" stroke-width="7.0"/><circle cx="1638.5" cy="1263.9" r="6.2" stroke-width="7.0"/><circle cx="1642.0" cy="1265.0" r="6.2" stroke-width="7.0"/><circle cx="1645.5" cy="1265.8" r="6.2" stroke-width="7.0"/><circle cx="1649.0" cy="1264.4" r="6.2" stroke-width="7.0"/><circle cx="1652.5" cy="1264.2" r="6.2" stroke-width="7.0"/><circle cx="1656.0" cy="1264.9" r="6.2" stroke-width="7.0"/><circle cx="1659.5" cy="1264.8" r="6.2" stroke-width="7.0"/><circle cx="1663.1" cy="1264.1" r="6.2" stroke-width="7.0"/><circle cx="1666.6" cy="1265.3" r="6.2" stroke-width="7.0"/><circle cx="1670.1" cy="1266.6" r="6.2" stroke-width="7.0"/><circle cx="1673.6" cy="1264.9" r="6.2" stroke-width="7.0"/><circle cx="1677.1" cy="1265.0" r="6.2" stroke-width="7.0"/><circle cx="1680.6" cy="1264.4" r="6.2" stroke-width="7.0"/><circle cx="1684.1" cy="1265.5" r="6.2" stroke-width="7.0"/><circle cx="1687.7" cy="1264.3" r="6.2" stroke-width="7.0"/><circle cx="1691.2" cy="1264.5" r="6.2" stroke-width="7.0"/><circle cx="1694.7" cy="1266.5" r="6.2" stroke-width="7.0"/><circle cx="1698.2" cy="1264.8" r="6.2" stroke-width="7.0"/><circle cx="1701.7" cy="1266.4" r="6.2" stroke-width="7.0"/><circle cx="1705.2" cy="1266.8" r="6.2" stroke-width="7.0"/><circle cx="1708.7" cy="1265.8" r="6.2" stroke-width="7.0"/><circle cx="1712.2" cy="1266.1" r="6.2" stroke-width="7.0"/><circle cx="1715.8" cy="1267.2" r="6.2" stroke-width="7.0"/><circle cx="1719.3" cy="1265.6" r="6.2" stroke-width="7.0"/><circle cx="1722.8" cy="1265.3" r="6.2" stroke-width="7.0"/><circle cx="1726.3" cy="1264.7" r="6.2" stroke-width="7.0"/><circle cx="1729.8" cy="1265.9" r="6.2" stroke-width="7.0"/><circle cx="1733.3" cy="1267.1" r="6.2" stroke-width="7.0"/><circle cx="1736.8" cy="1266.7" r="6.2" stroke-width="7.0"/><circle cx="1740.4" cy="1265.2" r="6.2" stroke-width="7.0"/><circle cx="1743.9" cy="1265.3" r="6.2" stroke-width="7.0"/><circle cx="1747.4" cy="1265.6" r="6.2" stroke-width="7.0"/><circle cx="1750.9" cy="1266.3" r="6.2" stroke-width="7.0"/><circle cx="1754.4" cy="1265.9" r="6.2" stroke-width="7.0"/><circle cx="1757.9" cy="1266.3" r="6.2" stroke-width="7.0"/><circle cx="1761.4" cy="1266.4" r="6.2" stroke-width="7.0"/><circle cx="1765.0" cy="1266.0" r="6.2" stroke-width="7.0"/><circle cx="1768.5" cy="1266.2" r="6.2" stroke-width="7.0"/><circle cx="1772.0" cy="1266.4" r="6.2" stroke-width="7.0"/><circle cx="1775.5" cy="1266.2" r="6.2" stroke-width="7.0"/><circle cx="1779.0" cy="1266.7" r="6.2" stroke-width="7.0"/><circle cx="1782.5" cy="1267.9" r="6.2" stroke-width="7.0"/><circle cx="1786.0" cy="1266.9" r="6.2" stroke-width="7.0"/><circle cx="1789.6" cy="1266.5" r="6.2" stroke-width="7.0"/><circle cx="1793.1" cy="1265.1" r="6.2" stroke-width="7.0"/><circle cx="1796.6" cy="1266.8" r="6.2" stroke-width="7.0"/></g><polyline points="806.0,159.4 810.0,160.5 814.0,161.3 818.0,162.0 822.0,162.7 826.0,163.2 830.0,163.7 834.0,164.2 838.0,164.7 842.0,165.2 846.0,165.7 850.0,166.4 854.0,167.1 858.0,167.8 862.0,168.5 866.0,169.2 870.0,169.9 874.0,170.6 878.0,171.3 882.0,172.1 886.0,172.8 890.0,173.6 894.0,174.4 898.0,175.3 902.0,176.2 906.0,177.2 910.0,178.3 914.0,179.4 918.0,180.6 922.0,181.9 926.0,183.2 930.0,184.5 934.0,185.9 938.0,187.3 942.0,188.6 946.0,189.9 950.0,191.2 954.0,192.5 958.0,193.6 962.0,194.7 966.0,195.8 970.0,196.7 974.0,197.7 978.0,198.6 982.0,199.5 986.0,200.4 990.0,201.3 994.0,202.2 998.0,203.0 1002.0,203.9 1006.0,204.8 1010.0,205.7 1014.0,206.6 1018.0,207.5 1022.0,208.4 1026.0,209.3 1030.0,210.1 1034.0,211.0 1038.0,211.9 1042.0,212.8 1046.0,213.8 1050.0,214.8 1054.0,215.8 1058.0,216.9 1062.0,218.1 1066.0,219.3 1070.0,220.6 1074.0,222.0 1078.0,223.4 1082.0,224.9 1086.0,226.4 1090.0,228.1 1094.0,229.7 1098.0,231.4 1102.0,233.2 1106.0,235.0 1110.0,237.1 1114.0,239.1 1118.0,241.6" fill="none" stroke="#300a50" stroke-opacity="0.75" stroke-width="2.2"/></g><line x1="364" y1="699.5" x2="517" y2="699.5" stroke="#000000" stroke-width="5.5"/><circle cx="440" cy="699.5" r="5.2" fill="#fff" stroke="#000000" stroke-width="5.6"/><text x="530" y="722" font-family="Liberation Serif, Times New Roman, serif" font-size="66.5" fill="#111" stroke="#111" stroke-width="0.4">Al<tspan dy="-25" font-size="46">3+</tspan><tspan dy="25"> doped KDP prismatic</tspan></text><line x1="364" y1="781" x2="517" y2="781" stroke="#ff0080" stroke-width="5.5"/><circle cx="440" cy="781" r="5.2" fill="#fff" stroke="#ff0080" stroke-width="5.6"/><text x="530" y="804" font-family="Liberation Serif, Times New Roman, serif" font-size="66.5" fill="#111" stroke="#111" stroke-width="0.4">undoped KDP prismatic</text><line x1="364" y1="871.5" x2="517" y2="871.5" stroke="#000000" stroke-width="5.5"/><circle cx="440" cy="871.5" r="5.2" fill="#fff" stroke="#0000ff" stroke-width="5.6"/><text x="530" y="893.8" font-family="Liberation Serif, Times New Roman, serif" font-size="66.5" fill="#111" stroke="#111" stroke-width="0.4">Al<tspan dy="-25" font-size="46">3+</tspan><tspan dy="25">-doped KDP pyramidal</tspan></text><line x1="364" y1="953" x2="517" y2="953" stroke="#d42aff" stroke-width="5.5"/><circle cx="440" cy="953" r="5.2" fill="#fff" stroke="#d42aff" stroke-width="5.6"/><text x="530" y="974.6" font-family="Liberation Serif, Times New Roman, serif" font-size="66.5" fill="#111" stroke="#111" stroke-width="0.4">undoped KDP pyramidal</text></svg></body></html>
